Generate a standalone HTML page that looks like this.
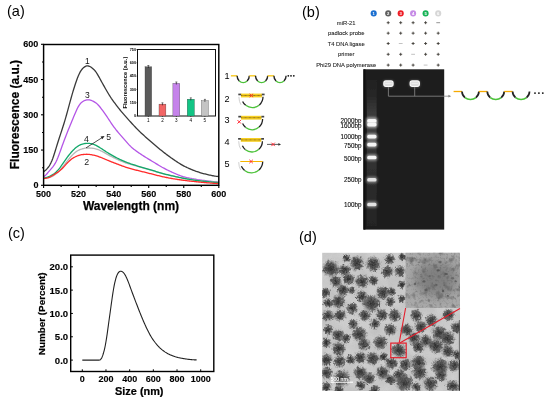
<!DOCTYPE html>
<html><head><meta charset="utf-8"><style>
html,body{margin:0;padding:0;background:#fff;}
svg{display:block;}
</style></head><body>
<svg width="550" height="402" viewBox="0 0 550 402" font-family="'Liberation Sans', Arial, sans-serif">
<defs>
<filter id="bl" x="-30%" y="-80%" width="160%" height="260%"><feGaussianBlur stdDeviation="0.5"/></filter>
<filter id="bl4" x="-50%" y="-100%" width="200%" height="300%"><feGaussianBlur stdDeviation="1.1"/></filter>
<filter id="bl5" x="-10%" y="-10%" width="120%" height="120%"><feGaussianBlur stdDeviation="0.6"/></filter>
<filter id="dend" x="-5%" y="-5%" width="110%" height="110%"><feTurbulence type="turbulence" baseFrequency="0.3" numOctaves="2" seed="8" result="t"/><feDisplacementMap in="SourceGraphic" in2="t" scale="4" xChannelSelector="R" yChannelSelector="G" result="d"/><feGaussianBlur in="d" stdDeviation="0.75"/></filter>
<filter id="mottle" x="0" y="0" width="100%" height="100%" color-interpolation-filters="sRGB"><feTurbulence type="fractalNoise" baseFrequency="0.14" numOctaves="3" seed="21"/><feColorMatrix type="matrix" values="0 0 0 0 0.35  0 0 0 0 0.35  0 0 0 0 0.35  -3 0 0 0 1.45"/><feComposite in2="SourceGraphic" operator="in"/></filter>
<filter id="haze" x="0" y="0" width="100%" height="100%"><feTurbulence type="fractalNoise" baseFrequency="0.07" numOctaves="2" seed="4"/><feColorMatrix type="matrix" values="0 0 0 0 0.45  0 0 0 0 0.45  0 0 0 0 0.45  -2.2 0 0 0 1.35"/><feComposite in2="SourceGraphic" operator="in"/></filter>
<filter id="mottle2" x="0" y="0" width="100%" height="100%" color-interpolation-filters="sRGB"><feTurbulence type="fractalNoise" baseFrequency="0.45" numOctaves="2" seed="13"/><feColorMatrix type="matrix" values="0 0 0 0 0.3  0 0 0 0 0.3  0 0 0 0 0.3  -3 0 0 0 1.4"/><feComposite in2="SourceGraphic" operator="in"/></filter>
<filter id="bl2"><feGaussianBlur stdDeviation="0.8"/></filter>
<filter id="noise" x="0" y="0" width="100%" height="100%"><feTurbulence type="fractalNoise" baseFrequency="0.9" numOctaves="2" seed="3"/><feColorMatrix type="matrix" values="0 0 0 0 0.5  0 0 0 0 0.5  0 0 0 0 0.5  1.2 0 0 0 -0.45"/><feComposite in2="SourceGraphic" operator="in"/></filter>
<radialGradient id="blobg"><stop offset="0" stop-color="#282828"/><stop offset="0.3" stop-color="#383838" stop-opacity="0.95"/><stop offset="0.62" stop-color="#555" stop-opacity="0.75"/><stop offset="1" stop-color="#888" stop-opacity="0"/></radialGradient>
<filter id="bl3" x="-50%" y="-50%" width="200%" height="200%"><feGaussianBlur stdDeviation="6"/></filter>
<linearGradient id="ladsm" x1="0" y1="0" x2="0" y2="1">
<stop offset="0" stop-color="#222"/><stop offset="0.1" stop-color="#262626"/><stop offset="0.22" stop-color="#3a3a3a"/><stop offset="0.3" stop-color="#404040"/><stop offset="0.5" stop-color="#333"/><stop offset="0.8" stop-color="#2a2a2a"/><stop offset="1" stop-color="#242424"/>
</linearGradient>
<clipPath id="insclip"><rect x="405.6" y="252.8" width="54.4" height="55"/></clipPath>
<clipPath id="semclip"><rect x="322.2" y="252.8" width="137.8" height="138.2"/></clipPath>
</defs>
<rect width="550" height="402" fill="#fff"/>
<text x="7" y="16" font-size="14.5" font-weight="normal" text-anchor="start" fill="#000" >(a)</text>
<g fill="none" stroke-width="1.3" stroke-linejoin="round" stroke-linecap="round">
<path d="M43.9,171.37 L44.78,170.85 L45.65,170.17 L46.53,169.35 L47.4,168.35 L48.28,167.26 L49.16,166.01 L50.03,164.55 L50.91,162.86 L51.78,160.91 L52.66,158.68 L53.53,156.2 L54.41,153.51 L55.29,150.71 L56.16,147.87 L57.04,145.04 L57.91,142.24 L58.79,139.5 L59.67,136.8 L60.54,134.14 L61.42,131.48 L62.29,128.79 L63.17,126.05 L64.05,123.25 L64.92,120.35 L65.8,117.36 L66.67,114.28 L67.55,111.11 L68.42,107.88 L69.3,104.62 L70.18,101.38 L71.05,98.21 L71.93,95.13 L72.8,92.16 L73.68,89.28 L74.56,86.5 L75.43,83.82 L76.31,81.25 L77.18,78.81 L78.06,76.53 L78.94,74.48 L79.81,72.69 L80.69,71.14 L81.56,69.82 L82.44,68.74 L83.31,67.85 L84.19,67.15 L85.07,66.59 L85.94,66.19 L86.82,65.95 L87.69,65.89 L88.57,66.01 L89.45,66.28 L90.32,66.71 L91.2,67.26 L92.07,67.92 L92.95,68.66 L93.83,69.48 L94.7,70.42 L95.58,71.5 L96.45,72.74 L97.33,74.1 L98.2,75.56 L99.08,77.11 L99.96,78.73 L100.83,80.37 L101.71,81.98 L102.58,83.56 L103.46,85.11 L104.34,86.67 L105.21,88.22 L106.09,89.76 L106.96,91.28 L107.84,92.77 L108.72,94.22 L109.59,95.62 L110.47,96.98 L111.34,98.3 L112.22,99.57 L113.09,100.82 L113.97,102.04 L114.85,103.24 L115.72,104.42 L116.6,105.58 L117.47,106.71 L118.35,107.83 L119.23,108.92 L120.1,110 L120.98,111.05 L121.85,112.1 L122.73,113.13 L123.61,114.15 L124.48,115.16 L125.36,116.17 L126.23,117.17 L127.11,118.17 L127.98,119.15 L128.86,120.13 L129.74,121.1 L130.61,122.06 L131.49,123.02 L132.36,123.97 L133.24,124.91 L134.12,125.85 L134.99,126.78 L135.87,127.7 L136.74,128.61 L137.62,129.51 L138.49,130.39 L139.37,131.26 L140.25,132.11 L141.12,132.94 L142,133.76 L142.87,134.56 L143.75,135.35 L144.63,136.13 L145.5,136.9 L146.38,137.67 L147.25,138.43 L148.13,139.19 L149.01,139.95 L149.88,140.71 L150.76,141.47 L151.63,142.23 L152.51,143 L153.38,143.76 L154.26,144.51 L155.14,145.27 L156.01,146.02 L156.89,146.76 L157.76,147.49 L158.64,148.22 L159.52,148.94 L160.39,149.66 L161.27,150.36 L162.14,151.06 L163.02,151.75 L163.9,152.44 L164.77,153.12 L165.65,153.79 L166.52,154.46 L167.4,155.12 L168.27,155.76 L169.15,156.4 L170.03,157.04 L170.9,157.66 L171.78,158.27 L172.65,158.89 L173.53,159.49 L174.41,160.09 L175.28,160.69 L176.16,161.28 L177.03,161.87 L177.91,162.45 L178.79,163.02 L179.66,163.57 L180.54,164.11 L181.41,164.63 L182.29,165.13 L183.16,165.61 L184.04,166.08 L184.92,166.53 L185.79,166.96 L186.67,167.37 L187.54,167.78 L188.42,168.17 L189.3,168.56 L190.17,168.94 L191.05,169.31 L191.92,169.67 L192.8,170.03 L193.68,170.37 L194.55,170.71 L195.43,171.03 L196.3,171.35 L197.18,171.65 L198.05,171.95 L198.93,172.24 L199.81,172.51 L200.68,172.78 L201.56,173.04 L202.43,173.28 L203.31,173.52 L204.19,173.76 L205.06,173.98 L205.94,174.2 L206.81,174.42 L207.69,174.63 L208.57,174.83 L209.44,175.03 L210.32,175.22 L211.19,175.4 L212.07,175.58 L212.94,175.75 L213.82,175.91 L214.7,176.06 L215.57,176.2 L216.45,176.32 L217.32,176.42 L218.2,176.49" stroke="#3a3a3a"/>
<path d="M43.9,176.5 L44.78,175.91 L45.65,175.16 L46.53,174.27 L47.4,173.22 L48.28,172.18 L49.16,171.15 L50.03,170.13 L50.91,169.13 L51.78,168.11 L52.66,167.05 L53.53,165.91 L54.41,164.63 L55.29,163.17 L56.16,161.5 L57.04,159.62 L57.91,157.52 L58.79,155.25 L59.67,152.87 L60.54,150.42 L61.42,147.98 L62.29,145.55 L63.17,143.16 L64.05,140.82 L64.92,138.52 L65.8,136.26 L66.67,134.02 L67.55,131.8 L68.42,129.6 L69.3,127.43 L70.18,125.3 L71.05,123.19 L71.93,121.08 L72.8,118.98 L73.68,116.87 L74.56,114.77 L75.43,112.7 L76.31,110.69 L77.18,108.79 L78.06,107.07 L78.94,105.57 L79.81,104.31 L80.69,103.26 L81.56,102.41 L82.44,101.73 L83.31,101.19 L84.19,100.75 L85.07,100.39 L85.94,100.11 L86.82,99.92 L87.69,99.83 L88.57,99.83 L89.45,99.94 L90.32,100.13 L91.2,100.4 L92.07,100.75 L92.95,101.14 L93.83,101.59 L94.7,102.1 L95.58,102.69 L96.45,103.35 L97.33,104.12 L98.2,104.98 L99.08,105.94 L99.96,106.99 L100.83,108.12 L101.71,109.28 L102.58,110.47 L103.46,111.68 L104.34,112.9 L105.21,114.15 L106.09,115.41 L106.96,116.69 L107.84,118 L108.72,119.33 L109.59,120.66 L110.47,121.99 L111.34,123.3 L112.22,124.59 L113.09,125.84 L113.97,127.06 L114.85,128.23 L115.72,129.37 L116.6,130.47 L117.47,131.53 L118.35,132.57 L119.23,133.59 L120.1,134.6 L120.98,135.6 L121.85,136.6 L122.73,137.6 L123.61,138.61 L124.48,139.62 L125.36,140.64 L126.23,141.65 L127.11,142.66 L127.98,143.64 L128.86,144.59 L129.74,145.49 L130.61,146.36 L131.49,147.18 L132.36,147.96 L133.24,148.7 L134.12,149.41 L134.99,150.09 L135.87,150.75 L136.74,151.39 L137.62,152.01 L138.49,152.62 L139.37,153.22 L140.25,153.8 L141.12,154.38 L142,154.96 L142.87,155.53 L143.75,156.1 L144.63,156.66 L145.5,157.22 L146.38,157.77 L147.25,158.31 L148.13,158.85 L149.01,159.38 L149.88,159.9 L150.76,160.42 L151.63,160.95 L152.51,161.47 L153.38,162 L154.26,162.53 L155.14,163.06 L156.01,163.6 L156.89,164.13 L157.76,164.67 L158.64,165.19 L159.52,165.71 L160.39,166.23 L161.27,166.73 L162.14,167.23 L163.02,167.71 L163.9,168.19 L164.77,168.65 L165.65,169.11 L166.52,169.56 L167.4,170 L168.27,170.44 L169.15,170.86 L170.03,171.27 L170.9,171.68 L171.78,172.08 L172.65,172.47 L173.53,172.86 L174.41,173.24 L175.28,173.62 L176.16,174 L177.03,174.37 L177.91,174.73 L178.79,175.08 L179.66,175.42 L180.54,175.75 L181.41,176.06 L182.29,176.36 L183.16,176.64 L184.04,176.9 L184.92,177.14 L185.79,177.37 L186.67,177.59 L187.54,177.79 L188.42,177.98 L189.3,178.16 L190.17,178.34 L191.05,178.5 L191.92,178.67 L192.8,178.82 L193.68,178.97 L194.55,179.12 L195.43,179.26 L196.3,179.4 L197.18,179.53 L198.05,179.67 L198.93,179.79 L199.81,179.92 L200.68,180.04 L201.56,180.15 L202.43,180.27 L203.31,180.38 L204.19,180.49 L205.06,180.61 L205.94,180.72 L206.81,180.82 L207.69,180.93 L208.57,181.04 L209.44,181.14 L210.32,181.24 L211.19,181.35 L212.07,181.45 L212.94,181.54 L213.82,181.64 L214.7,181.74 L215.57,181.83 L216.45,181.91 L217.32,181.97 L218.2,182.02" stroke="#b455e6"/>
<path d="M43.9,178.35 L44.78,178.29 L45.65,178.21 L46.53,178.1 L47.4,177.95 L48.28,177.77 L49.16,177.55 L50.03,177.27 L50.91,176.94 L51.78,176.56 L52.66,176.12 L53.53,175.62 L54.41,175.05 L55.29,174.43 L56.16,173.75 L57.04,173.02 L57.91,172.23 L58.79,171.39 L59.67,170.48 L60.54,169.51 L61.42,168.49 L62.29,167.42 L63.17,166.32 L64.05,165.19 L64.92,164.05 L65.8,162.91 L66.67,161.78 L67.55,160.67 L68.42,159.59 L69.3,158.53 L70.18,157.5 L71.05,156.5 L71.93,155.54 L72.8,154.63 L73.68,153.78 L74.56,152.99 L75.43,152.26 L76.31,151.6 L77.18,151.01 L78.06,150.5 L78.94,150.05 L79.81,149.65 L80.69,149.31 L81.56,149.01 L82.44,148.75 L83.31,148.53 L84.19,148.35 L85.07,148.21 L85.94,148.09 L86.82,148.02 L87.69,147.98 L88.57,147.97 L89.45,148 L90.32,148.05 L91.2,148.12 L92.07,148.22 L92.95,148.33 L93.83,148.47 L94.7,148.65 L95.58,148.85 L96.45,149.09 L97.33,149.36 L98.2,149.67 L99.08,150.01 L99.96,150.38 L100.83,150.79 L101.71,151.22 L102.58,151.68 L103.46,152.16 L104.34,152.66 L105.21,153.17 L106.09,153.68 L106.96,154.17 L107.84,154.66 L108.72,155.14 L109.59,155.61 L110.47,156.07 L111.34,156.53 L112.22,156.98 L113.09,157.42 L113.97,157.86 L114.85,158.29 L115.72,158.71 L116.6,159.12 L117.47,159.52 L118.35,159.92 L119.23,160.3 L120.1,160.68 L120.98,161.05 L121.85,161.42 L122.73,161.77 L123.61,162.11 L124.48,162.45 L125.36,162.77 L126.23,163.08 L127.11,163.38 L127.98,163.66 L128.86,163.94 L129.74,164.2 L130.61,164.46 L131.49,164.71 L132.36,164.96 L133.24,165.21 L134.12,165.45 L134.99,165.7 L135.87,165.95 L136.74,166.2 L137.62,166.45 L138.49,166.69 L139.37,166.94 L140.25,167.19 L141.12,167.43 L142,167.68 L142.87,167.93 L143.75,168.17 L144.63,168.42 L145.5,168.67 L146.38,168.92 L147.25,169.16 L148.13,169.41 L149.01,169.66 L149.88,169.91 L150.76,170.15 L151.63,170.4 L152.51,170.65 L153.38,170.9 L154.26,171.15 L155.14,171.4 L156.01,171.65 L156.89,171.9 L157.76,172.16 L158.64,172.41 L159.52,172.65 L160.39,172.9 L161.27,173.14 L162.14,173.37 L163.02,173.6 L163.9,173.83 L164.77,174.05 L165.65,174.26 L166.52,174.48 L167.4,174.69 L168.27,174.9 L169.15,175.1 L170.03,175.3 L170.9,175.5 L171.78,175.69 L172.65,175.88 L173.53,176.06 L174.41,176.25 L175.28,176.43 L176.16,176.61 L177.03,176.78 L177.91,176.96 L178.79,177.13 L179.66,177.3 L180.54,177.47 L181.41,177.63 L182.29,177.8 L183.16,177.96 L184.04,178.12 L184.92,178.28 L185.79,178.44 L186.67,178.6 L187.54,178.76 L188.42,178.92 L189.3,179.07 L190.17,179.22 L191.05,179.37 L191.92,179.52 L192.8,179.66 L193.68,179.79 L194.55,179.93 L195.43,180.05 L196.3,180.17 L197.18,180.29 L198.05,180.41 L198.93,180.52 L199.81,180.63 L200.68,180.73 L201.56,180.83 L202.43,180.93 L203.31,181.02 L204.19,181.11 L205.06,181.2 L205.94,181.28 L206.81,181.36 L207.69,181.44 L208.57,181.52 L209.44,181.59 L210.32,181.66 L211.19,181.73 L212.07,181.8 L212.94,181.87 L213.82,181.93 L214.7,181.99 L215.57,182.04 L216.45,182.09 L217.32,182.13 L218.2,182.16" stroke="#b8b8b8"/>
<path d="M43.9,178.1 L44.78,177.95 L45.65,177.75 L46.53,177.49 L47.4,177.18 L48.28,176.83 L49.16,176.46 L50.03,176.06 L50.91,175.63 L51.78,175.16 L52.66,174.65 L53.53,174.09 L54.41,173.45 L55.29,172.74 L56.16,171.95 L57.04,171.08 L57.91,170.14 L58.79,169.12 L59.67,168.04 L60.54,166.88 L61.42,165.68 L62.29,164.44 L63.17,163.17 L64.05,161.89 L64.92,160.61 L65.8,159.34 L66.67,158.1 L67.55,156.9 L68.42,155.75 L69.3,154.63 L70.18,153.55 L71.05,152.51 L71.93,151.51 L72.8,150.57 L73.68,149.69 L74.56,148.85 L75.43,148.07 L76.31,147.34 L77.18,146.68 L78.06,146.08 L78.94,145.55 L79.81,145.08 L80.69,144.68 L81.56,144.34 L82.44,144.06 L83.31,143.83 L84.19,143.65 L85.07,143.5 L85.94,143.39 L86.82,143.33 L87.69,143.31 L88.57,143.34 L89.45,143.42 L90.32,143.54 L91.2,143.7 L92.07,143.9 L92.95,144.14 L93.83,144.43 L94.7,144.77 L95.58,145.17 L96.45,145.6 L97.33,146.08 L98.2,146.59 L99.08,147.13 L99.96,147.68 L100.83,148.24 L101.71,148.8 L102.58,149.38 L103.46,149.96 L104.34,150.54 L105.21,151.13 L106.09,151.7 L106.96,152.27 L107.84,152.82 L108.72,153.36 L109.59,153.89 L110.47,154.41 L111.34,154.92 L112.22,155.42 L113.09,155.91 L113.97,156.39 L114.85,156.86 L115.72,157.32 L116.6,157.78 L117.47,158.22 L118.35,158.65 L119.23,159.08 L120.1,159.49 L120.98,159.9 L121.85,160.3 L122.73,160.69 L123.61,161.07 L124.48,161.44 L125.36,161.81 L126.23,162.16 L127.11,162.5 L127.98,162.82 L128.86,163.14 L129.74,163.45 L130.61,163.76 L131.49,164.05 L132.36,164.34 L133.24,164.63 L134.12,164.91 L134.99,165.19 L135.87,165.47 L136.74,165.75 L137.62,166.02 L138.49,166.29 L139.37,166.55 L140.25,166.82 L141.12,167.08 L142,167.34 L142.87,167.6 L143.75,167.87 L144.63,168.12 L145.5,168.38 L146.38,168.64 L147.25,168.9 L148.13,169.15 L149.01,169.41 L149.88,169.67 L150.76,169.92 L151.63,170.18 L152.51,170.44 L153.38,170.7 L154.26,170.97 L155.14,171.24 L156.01,171.51 L156.89,171.78 L157.76,172.05 L158.64,172.32 L159.52,172.59 L160.39,172.85 L161.27,173.11 L162.14,173.36 L163.02,173.6 L163.9,173.84 L164.77,174.07 L165.65,174.3 L166.52,174.52 L167.4,174.74 L168.27,174.96 L169.15,175.17 L170.03,175.38 L170.9,175.59 L171.78,175.79 L172.65,175.99 L173.53,176.19 L174.41,176.39 L175.28,176.59 L176.16,176.78 L177.03,176.97 L177.91,177.16 L178.79,177.35 L179.66,177.53 L180.54,177.71 L181.41,177.89 L182.29,178.07 L183.16,178.24 L184.04,178.41 L184.92,178.58 L185.79,178.75 L186.67,178.91 L187.54,179.07 L188.42,179.23 L189.3,179.39 L190.17,179.54 L191.05,179.69 L191.92,179.83 L192.8,179.97 L193.68,180.1 L194.55,180.23 L195.43,180.34 L196.3,180.46 L197.18,180.57 L198.05,180.67 L198.93,180.77 L199.81,180.87 L200.68,180.96 L201.56,181.05 L202.43,181.14 L203.31,181.23 L204.19,181.32 L205.06,181.41 L205.94,181.49 L206.81,181.58 L207.69,181.66 L208.57,181.75 L209.44,181.83 L210.32,181.91 L211.19,181.99 L212.07,182.07 L212.94,182.15 L213.82,182.23 L214.7,182.31 L215.57,182.38 L216.45,182.44 L217.32,182.5 L218.2,182.54" stroke="#12a86a"/>
<path d="M43.9,178.51 L44.78,178.42 L45.65,178.3 L46.53,178.12 L47.4,177.91 L48.28,177.64 L49.16,177.32 L50.03,176.93 L50.91,176.49 L51.78,176 L52.66,175.48 L53.53,174.93 L54.41,174.36 L55.29,173.79 L56.16,173.23 L57.04,172.67 L57.91,172.09 L58.79,171.49 L59.67,170.82 L60.54,170.1 L61.42,169.31 L62.29,168.45 L63.17,167.55 L64.05,166.61 L64.92,165.64 L65.8,164.66 L66.67,163.69 L67.55,162.75 L68.42,161.85 L69.3,161 L70.18,160.2 L71.05,159.46 L71.93,158.8 L72.8,158.21 L73.68,157.68 L74.56,157.21 L75.43,156.77 L76.31,156.36 L77.18,155.99 L78.06,155.66 L78.94,155.37 L79.81,155.12 L80.69,154.91 L81.56,154.73 L82.44,154.59 L83.31,154.48 L84.19,154.4 L85.07,154.33 L85.94,154.29 L86.82,154.27 L87.69,154.28 L88.57,154.33 L89.45,154.42 L90.32,154.53 L91.2,154.67 L92.07,154.84 L92.95,155.03 L93.83,155.23 L94.7,155.45 L95.58,155.68 L96.45,155.93 L97.33,156.2 L98.2,156.48 L99.08,156.78 L99.96,157.09 L100.83,157.42 L101.71,157.76 L102.58,158.12 L103.46,158.49 L104.34,158.86 L105.21,159.24 L106.09,159.61 L106.96,159.98 L107.84,160.35 L108.72,160.72 L109.59,161.07 L110.47,161.43 L111.34,161.77 L112.22,162.12 L113.09,162.47 L113.97,162.81 L114.85,163.15 L115.72,163.48 L116.6,163.82 L117.47,164.15 L118.35,164.48 L119.23,164.81 L120.1,165.14 L120.98,165.46 L121.85,165.78 L122.73,166.1 L123.61,166.41 L124.48,166.72 L125.36,167.01 L126.23,167.3 L127.11,167.58 L127.98,167.85 L128.86,168.11 L129.74,168.36 L130.61,168.61 L131.49,168.85 L132.36,169.09 L133.24,169.33 L134.12,169.56 L134.99,169.79 L135.87,170.02 L136.74,170.25 L137.62,170.47 L138.49,170.69 L139.37,170.91 L140.25,171.12 L141.12,171.34 L142,171.56 L142.87,171.77 L143.75,171.99 L144.63,172.21 L145.5,172.43 L146.38,172.64 L147.25,172.86 L148.13,173.08 L149.01,173.3 L149.88,173.52 L150.76,173.74 L151.63,173.96 L152.51,174.18 L153.38,174.4 L154.26,174.62 L155.14,174.85 L156.01,175.07 L156.89,175.3 L157.76,175.52 L158.64,175.74 L159.52,175.96 L160.39,176.17 L161.27,176.38 L162.14,176.58 L163.02,176.78 L163.9,176.97 L164.77,177.16 L165.65,177.34 L166.52,177.51 L167.4,177.69 L168.27,177.85 L169.15,178.02 L170.03,178.18 L170.9,178.34 L171.78,178.49 L172.65,178.64 L173.53,178.79 L174.41,178.94 L175.28,179.08 L176.16,179.22 L177.03,179.36 L177.91,179.49 L178.79,179.63 L179.66,179.76 L180.54,179.89 L181.41,180.01 L182.29,180.13 L183.16,180.25 L184.04,180.37 L184.92,180.48 L185.79,180.59 L186.67,180.7 L187.54,180.8 L188.42,180.9 L189.3,181 L190.17,181.09 L191.05,181.19 L191.92,181.28 L192.8,181.37 L193.68,181.46 L194.55,181.55 L195.43,181.65 L196.3,181.74 L197.18,181.83 L198.05,181.92 L198.93,182.01 L199.81,182.1 L200.68,182.19 L201.56,182.28 L202.43,182.36 L203.31,182.44 L204.19,182.52 L205.06,182.6 L205.94,182.68 L206.81,182.75 L207.69,182.83 L208.57,182.9 L209.44,182.97 L210.32,183.04 L211.19,183.11 L212.07,183.17 L212.94,183.24 L213.82,183.3 L214.7,183.36 L215.57,183.43 L216.45,183.48 L217.32,183.52 L218.2,183.55" stroke="#ff2a2a"/>
</g>
<g font-family="'Liberation Sans', Arial, sans-serif" font-size="8" fill="#222">
<text x="87.3" y="63.6" font-size="8.5" font-weight="normal" text-anchor="middle" fill="#111" >1</text>
<text x="87.3" y="97.7" font-size="8.5" font-weight="normal" text-anchor="middle" fill="#111" >3</text>
<text x="86.4" y="141.8" font-size="8.8" font-weight="normal" text-anchor="middle" fill="#222" >4</text>
<text x="86.6" y="165.4" font-size="8.8" font-weight="normal" text-anchor="middle" fill="#222" >2</text>
<text x="108.7" y="139.7" font-size="8.6" font-weight="normal" text-anchor="middle" fill="#222" >5</text>
</g>
<line x1="86" y1="147.9" x2="102.6" y2="137.3" stroke="#222" stroke-width="0.8" />
<path d="M104.6,136 L100.6,136.6 L102.3,139.2 Z" fill="#222"/>
<rect x="137.5" y="49.5" width="78.0" height="66.5" fill="none" stroke="#111" stroke-width="1.0"/>
<rect x="145" y="66.79" width="6.7" height="49.21" fill="#5a5a5a" stroke="#333" stroke-width="0.3"/>
<line x1="148.35" y1="65.49" x2="148.35" y2="68.09" stroke="#000" stroke-width="0.5" />
<line x1="147.35" y1="65.49" x2="149.35" y2="65.49" stroke="#000" stroke-width="0.5" />
<text x="148.35" y="122.2" font-size="4.6" font-weight="normal" text-anchor="middle" fill="#000" >1</text>
<line x1="148.35" y1="116" x2="148.35" y2="117" stroke="#000" stroke-width="0.5" />
<rect x="159" y="104.12" width="6.9" height="11.88" fill="#f26565" stroke="#333" stroke-width="0.3"/>
<line x1="162.45" y1="102.82" x2="162.45" y2="105.42" stroke="#000" stroke-width="0.5" />
<line x1="161.45" y1="102.82" x2="163.45" y2="102.82" stroke="#000" stroke-width="0.5" />
<text x="162.45" y="122.2" font-size="4.6" font-weight="normal" text-anchor="middle" fill="#000" >2</text>
<line x1="162.45" y1="116" x2="162.45" y2="117" stroke="#000" stroke-width="0.5" />
<rect x="172.9" y="83.28" width="6.9" height="32.72" fill="#c583ea" stroke="#333" stroke-width="0.3"/>
<line x1="176.35" y1="81.98" x2="176.35" y2="84.58" stroke="#000" stroke-width="0.5" />
<line x1="175.35" y1="81.98" x2="177.35" y2="81.98" stroke="#000" stroke-width="0.5" />
<text x="176.35" y="122.2" font-size="4.6" font-weight="normal" text-anchor="middle" fill="#000" >3</text>
<line x1="176.35" y1="116" x2="176.35" y2="117" stroke="#000" stroke-width="0.5" />
<rect x="187.2" y="99.15" width="7.2" height="16.85" fill="#12c585" stroke="#333" stroke-width="0.3"/>
<line x1="190.8" y1="97.85" x2="190.8" y2="100.45" stroke="#000" stroke-width="0.5" />
<line x1="189.8" y1="97.85" x2="191.8" y2="97.85" stroke="#000" stroke-width="0.5" />
<text x="190.8" y="122.2" font-size="4.6" font-weight="normal" text-anchor="middle" fill="#000" >4</text>
<line x1="190.8" y1="116" x2="190.8" y2="117" stroke="#000" stroke-width="0.5" />
<rect x="201.4" y="100.66" width="7" height="15.34" fill="#c4c4c4" stroke="#333" stroke-width="0.3"/>
<line x1="204.9" y1="99.36" x2="204.9" y2="101.96" stroke="#000" stroke-width="0.5" />
<line x1="203.9" y1="99.36" x2="205.9" y2="99.36" stroke="#000" stroke-width="0.5" />
<text x="204.9" y="122.2" font-size="4.6" font-weight="normal" text-anchor="middle" fill="#000" >5</text>
<line x1="204.9" y1="116" x2="204.9" y2="117" stroke="#000" stroke-width="0.5" />
<line x1="136.3" y1="116" x2="137.5" y2="116" stroke="#000" stroke-width="0.5" />
<text x="136" y="117.35" font-size="3.8" font-weight="bold" text-anchor="end" fill="#000" >0</text>
<line x1="136.3" y1="102.7" x2="137.5" y2="102.7" stroke="#000" stroke-width="0.5" />
<text x="136" y="104.05" font-size="3.8" font-weight="bold" text-anchor="end" fill="#000" >150</text>
<line x1="136.3" y1="89.4" x2="137.5" y2="89.4" stroke="#000" stroke-width="0.5" />
<text x="136" y="90.75" font-size="3.8" font-weight="bold" text-anchor="end" fill="#000" >300</text>
<line x1="136.3" y1="76.1" x2="137.5" y2="76.1" stroke="#000" stroke-width="0.5" />
<text x="136" y="77.45" font-size="3.8" font-weight="bold" text-anchor="end" fill="#000" >450</text>
<line x1="136.3" y1="62.8" x2="137.5" y2="62.8" stroke="#000" stroke-width="0.5" />
<text x="136" y="64.15" font-size="3.8" font-weight="bold" text-anchor="end" fill="#000" >600</text>
<line x1="136.3" y1="49.5" x2="137.5" y2="49.5" stroke="#000" stroke-width="0.5" />
<text x="136" y="50.85" font-size="3.8" font-weight="bold" text-anchor="end" fill="#000" >750</text>
<text transform="translate(126.5,82.6) rotate(-90)" font-size="5.7" font-weight="bold" text-anchor="middle">Fluorescence (a.u.)</text>
<rect x="43.6" y="44.5" width="175.2" height="140.8" fill="none" stroke="#000" stroke-width="1.45"/>
<line x1="41" y1="185.3" x2="43.6" y2="185.3" stroke="#000" stroke-width="1.1" />
<text x="38.4" y="188.27" font-size="9" font-weight="bold" text-anchor="end" fill="#000" stroke="#000" stroke-width="0.12">0</text>
<line x1="42" y1="167.68" x2="43.6" y2="167.68" stroke="#000" stroke-width="1.1" />
<line x1="41" y1="150.05" x2="43.6" y2="150.05" stroke="#000" stroke-width="1.1" />
<text x="38.4" y="153.02" font-size="9" font-weight="bold" text-anchor="end" fill="#000" stroke="#000" stroke-width="0.12">150</text>
<line x1="42" y1="132.43" x2="43.6" y2="132.43" stroke="#000" stroke-width="1.1" />
<line x1="41" y1="114.8" x2="43.6" y2="114.8" stroke="#000" stroke-width="1.1" />
<text x="38.4" y="117.77" font-size="9" font-weight="bold" text-anchor="end" fill="#000" stroke="#000" stroke-width="0.12">300</text>
<line x1="42" y1="97.18" x2="43.6" y2="97.18" stroke="#000" stroke-width="1.1" />
<line x1="41" y1="79.55" x2="43.6" y2="79.55" stroke="#000" stroke-width="1.1" />
<text x="38.4" y="82.52" font-size="9" font-weight="bold" text-anchor="end" fill="#000" stroke="#000" stroke-width="0.12">450</text>
<line x1="42" y1="61.93" x2="43.6" y2="61.93" stroke="#000" stroke-width="1.1" />
<line x1="41" y1="44.3" x2="43.6" y2="44.3" stroke="#000" stroke-width="1.1" />
<text x="38.4" y="47.27" font-size="9" font-weight="bold" text-anchor="end" fill="#000" stroke="#000" stroke-width="0.12">600</text>
<line x1="43.6" y1="185.3" x2="43.6" y2="187.9" stroke="#000" stroke-width="1.1" />
<text x="43.6" y="197.4" font-size="9" font-weight="bold" text-anchor="middle" fill="#000" stroke="#000" stroke-width="0.12">500</text>
<line x1="61.12" y1="185.3" x2="61.12" y2="186.9" stroke="#000" stroke-width="1.1" />
<line x1="78.64" y1="185.3" x2="78.64" y2="187.9" stroke="#000" stroke-width="1.1" />
<text x="78.64" y="197.4" font-size="9" font-weight="bold" text-anchor="middle" fill="#000" stroke="#000" stroke-width="0.12">520</text>
<line x1="96.16" y1="185.3" x2="96.16" y2="186.9" stroke="#000" stroke-width="1.1" />
<line x1="113.68" y1="185.3" x2="113.68" y2="187.9" stroke="#000" stroke-width="1.1" />
<text x="113.68" y="197.4" font-size="9" font-weight="bold" text-anchor="middle" fill="#000" stroke="#000" stroke-width="0.12">540</text>
<line x1="131.2" y1="185.3" x2="131.2" y2="186.9" stroke="#000" stroke-width="1.1" />
<line x1="148.72" y1="185.3" x2="148.72" y2="187.9" stroke="#000" stroke-width="1.1" />
<text x="148.72" y="197.4" font-size="9" font-weight="bold" text-anchor="middle" fill="#000" stroke="#000" stroke-width="0.12">560</text>
<line x1="166.24" y1="185.3" x2="166.24" y2="186.9" stroke="#000" stroke-width="1.1" />
<line x1="183.76" y1="185.3" x2="183.76" y2="187.9" stroke="#000" stroke-width="1.1" />
<text x="183.76" y="197.4" font-size="9" font-weight="bold" text-anchor="middle" fill="#000" stroke="#000" stroke-width="0.12">580</text>
<line x1="201.28" y1="185.3" x2="201.28" y2="186.9" stroke="#000" stroke-width="1.1" />
<line x1="218.8" y1="185.3" x2="218.8" y2="187.9" stroke="#000" stroke-width="1.1" />
<text x="218.8" y="197.4" font-size="9" font-weight="bold" text-anchor="middle" fill="#000" stroke="#000" stroke-width="0.12">600</text>
<text x="131" y="209.7" font-size="12" font-weight="bold" text-anchor="middle" fill="#000" stroke="#000" stroke-width="0.25">Wavelength (nm)</text>
<text transform="translate(18.8,114.6) rotate(-90)" font-size="12" font-weight="bold" text-anchor="middle" stroke="#000" stroke-width="0.25">Fluorescence (a.u.)</text>
<g font-size="8.6" fill="#111">
<text x="224.4" y="79.2" font-size="9.1" font-weight="normal" text-anchor="start" fill="#000" >1</text>
<text x="224.4" y="101.7" font-size="9.1" font-weight="normal" text-anchor="start" fill="#000" >2</text>
<text x="224.4" y="123.4" font-size="9.1" font-weight="normal" text-anchor="start" fill="#000" >3</text>
<text x="224.4" y="145" font-size="9.1" font-weight="normal" text-anchor="start" fill="#000" >4</text>
<text x="224.4" y="167.3" font-size="9.1" font-weight="normal" text-anchor="start" fill="#000" >5</text>
</g>
<line x1="230.9" y1="75.8" x2="237.1" y2="75.8" stroke="#f9cd2e" stroke-width="1.5" />
<path d="M237.1,75.8 A6.1,6.8 0 0 0 239.24,80.97" stroke="#222" stroke-width="1.4" fill="none"/>
<path d="M239.24,80.97 A6.1,6.8 0 0 0 247.16,80.97" stroke="#4cc23a" stroke-width="1.4" fill="none"/>
<path d="M247.16,80.97 A6.1,6.8 0 0 0 249.3,75.8" stroke="#222" stroke-width="1.4" fill="none"/>
<line x1="249.3" y1="75.8" x2="255.5" y2="75.8" stroke="#f9cd2e" stroke-width="1.5" />
<path d="M255.5,75.8 A6.1,6.8 0 0 0 257.64,80.97" stroke="#222" stroke-width="1.4" fill="none"/>
<path d="M257.64,80.97 A6.1,6.8 0 0 0 265.56,80.97" stroke="#4cc23a" stroke-width="1.4" fill="none"/>
<path d="M265.56,80.97 A6.1,6.8 0 0 0 267.7,75.8" stroke="#222" stroke-width="1.4" fill="none"/>
<line x1="267.7" y1="75.8" x2="273.9" y2="75.8" stroke="#f9cd2e" stroke-width="1.5" />
<path d="M273.9,75.8 A6.1,6.8 0 0 0 276.04,80.97" stroke="#222" stroke-width="1.4" fill="none"/>
<path d="M276.04,80.97 A6.1,6.8 0 0 0 283.96,80.97" stroke="#4cc23a" stroke-width="1.4" fill="none"/>
<path d="M283.96,80.97 A6.1,6.8 0 0 0 286.1,75.8" stroke="#222" stroke-width="1.4" fill="none"/>
<circle cx="288.3" cy="75.8" r="0.9" fill="#111"/>
<circle cx="291" cy="75.8" r="0.9" fill="#111"/>
<circle cx="293.8" cy="75.8" r="0.9" fill="#111"/>
<path d="M242.62,101.4 A10.7,10.8 0 0 0 245.74,105.33" stroke="#222" stroke-width="1.3" fill="none"/>
<path d="M245.74,105.33 A10.7,10.8 0 0 0 259.38,104.9" stroke="#4cc23a" stroke-width="1.3" fill="none"/>
<path d="M259.38,104.9 A10.7,10.8 0 0 0 263,96.8" stroke="#222" stroke-width="1.3" fill="none"/>
<path d="M238.9,96.8 Q239.1,102.3 241,104.8" stroke="#d2d2d2" stroke-width="1" fill="none"/>
<rect x="241" y="93.6" width="20.9" height="3.8" fill="#f7cf22"/>
<line x1="241.2" y1="95.5" x2="261.7" y2="95.5" stroke="#7a5a12" stroke-width="0.9" stroke-dasharray="0.8,0.5"/>
<rect x="238.3" y="93.6" width="2.8" height="1.7" fill="#444"/>
<rect x="261.8" y="93.6" width="2.8" height="1.7" fill="#444"/>
<path d="M249.7,93.8 L253.1,97.2 M253.1,93.8 L249.7,97.2" stroke="#ff2a35" stroke-width="1.0" fill="none"/>
<path d="M242.6,123.6 A10.5,10.8 0 0 0 245.66,127.53" stroke="#222" stroke-width="1.3" fill="none"/>
<path d="M245.66,127.53 A10.5,10.8 0 0 0 259.04,127.1" stroke="#4cc23a" stroke-width="1.3" fill="none"/>
<path d="M259.04,127.1 A10.5,10.8 0 0 0 262.6,119" stroke="#222" stroke-width="1.3" fill="none"/>
<rect x="241" y="115.8" width="20.5" height="3.8" fill="#f7cf22"/>
<line x1="241.2" y1="117.7" x2="261.3" y2="117.7" stroke="#7a5a12" stroke-width="0.9" stroke-dasharray="0.8,0.5"/>
<rect x="238.3" y="115.8" width="2.8" height="1.7" fill="#444"/>
<rect x="261.4" y="115.8" width="2.8" height="1.7" fill="#444"/>
<path d="M237.5,120.1 L240.9,123.5 M240.9,120.1 L237.5,123.5" stroke="#ff2a35" stroke-width="1.0" fill="none"/>
<path d="M242.4,145.8 A10.5,10.8 0 0 0 245.46,149.73" stroke="#222" stroke-width="1.3" fill="none"/>
<path d="M245.46,149.73 A10.5,10.8 0 0 0 258.84,149.3" stroke="#4cc23a" stroke-width="1.3" fill="none"/>
<path d="M258.84,149.3 A10.5,10.8 0 0 0 262.4,141.2" stroke="#222" stroke-width="1.3" fill="none"/>
<path d="M238.7,141.2 Q238.9,146.7 240.8,149.2" stroke="#d2d2d2" stroke-width="1" fill="none"/>
<rect x="240.8" y="138" width="20.5" height="3.8" fill="#f7cf22"/>
<line x1="241" y1="139.9" x2="261.1" y2="139.9" stroke="#7a5a12" stroke-width="0.9" stroke-dasharray="0.8,0.5"/>
<rect x="238.1" y="138" width="2.8" height="1.7" fill="#444"/>
<rect x="261.2" y="138" width="2.8" height="1.7" fill="#444"/>
<line x1="267" y1="144.4" x2="279.2" y2="144.4" stroke="#333" stroke-width="0.8" />
<path d="M281,144.4 L278.4,143.1 L278.4,145.7 Z" fill="#333"/>
<path d="M271.4,142.7 L274.8,146.1 M274.8,142.7 L271.4,146.1" stroke="#ff2a35" stroke-width="1.0" fill="none"/>
<path d="M241.37,166.31 A11.2,11.3 0 0 0 244.64,170.43" stroke="#222" stroke-width="1.3" fill="none"/>
<path d="M244.64,170.43 A11.2,11.3 0 0 0 258.91,169.98" stroke="#4cc23a" stroke-width="1.3" fill="none"/>
<path d="M258.91,169.98 A11.2,11.3 0 0 0 262.7,161.5" stroke="#222" stroke-width="1.3" fill="none"/>
<path d="M238.7,162.1 Q238.9,167 240.6,169.9" stroke="#d2d2d2" stroke-width="1" fill="none"/>
<line x1="240.3" y1="161.5" x2="262.7" y2="161.5" stroke="#f7b500" stroke-width="1.0" />
<path d="M249.4,159.8 L252.8,163.2 M252.8,159.8 L249.4,163.2" stroke="#ff2a35" stroke-width="1.0" fill="none"/>
<text x="302" y="17" font-size="14.5" font-weight="normal" text-anchor="start" fill="#000" >(b)</text>
<circle cx="373.7" cy="13.4" r="3.05" fill="#1a6fd0"/>
<text x="373.7" y="15" font-size="4.2" font-weight="bold" text-anchor="middle" fill="#fff" >1</text>
<circle cx="388.2" cy="13.4" r="3.05" fill="#5f5f5f"/>
<text x="388.2" y="15" font-size="4.2" font-weight="bold" text-anchor="middle" fill="#fff" >2</text>
<circle cx="400.7" cy="13.4" r="3.05" fill="#ee1c25"/>
<text x="400.7" y="15" font-size="4.2" font-weight="bold" text-anchor="middle" fill="#fff" >3</text>
<circle cx="413.1" cy="13.4" r="3.05" fill="#c68be6"/>
<text x="413.1" y="15" font-size="4.2" font-weight="bold" text-anchor="middle" fill="#fff" >4</text>
<circle cx="425.6" cy="13.4" r="3.05" fill="#16b356"/>
<text x="425.6" y="15" font-size="4.2" font-weight="bold" text-anchor="middle" fill="#fff" >5</text>
<circle cx="438.2" cy="13.4" r="3.05" fill="#d6d6d6"/>
<text x="438.2" y="15" font-size="4.2" font-weight="bold" text-anchor="middle" fill="#fff" >6</text>
<text x="346.2" y="24.7" font-size="5.8" font-weight="normal" text-anchor="middle" fill="#222" stroke="#222" stroke-width="0.08">miR-21</text>
<line x1="386.7" y1="22.7" x2="389.7" y2="22.7" stroke="#3a3630" stroke-width="0.85" />
<line x1="388.2" y1="21.2" x2="388.2" y2="24.2" stroke="#3a3630" stroke-width="0.85" />
<line x1="399.2" y1="22.7" x2="402.2" y2="22.7" stroke="#3a3630" stroke-width="0.85" />
<line x1="400.7" y1="21.2" x2="400.7" y2="24.2" stroke="#3a3630" stroke-width="0.85" />
<line x1="411.6" y1="22.7" x2="414.6" y2="22.7" stroke="#3a3630" stroke-width="0.85" />
<line x1="413.1" y1="21.2" x2="413.1" y2="24.2" stroke="#3a3630" stroke-width="0.85" />
<line x1="424.1" y1="22.7" x2="427.1" y2="22.7" stroke="#3a3630" stroke-width="0.85" />
<line x1="425.6" y1="21.2" x2="425.6" y2="24.2" stroke="#3a3630" stroke-width="0.85" />
<line x1="436.3" y1="22.7" x2="440.1" y2="22.7" stroke="#666" stroke-width="0.7" />
<text x="346.2" y="35.2" font-size="5.8" font-weight="normal" text-anchor="middle" fill="#222" stroke="#222" stroke-width="0.08">padlock probe</text>
<line x1="386.7" y1="33.2" x2="389.7" y2="33.2" stroke="#3a3630" stroke-width="0.85" />
<line x1="388.2" y1="31.7" x2="388.2" y2="34.7" stroke="#3a3630" stroke-width="0.85" />
<line x1="399.2" y1="33.2" x2="402.2" y2="33.2" stroke="#3a3630" stroke-width="0.85" />
<line x1="400.7" y1="31.7" x2="400.7" y2="34.7" stroke="#3a3630" stroke-width="0.85" />
<line x1="411.6" y1="33.2" x2="414.6" y2="33.2" stroke="#3a3630" stroke-width="0.85" />
<line x1="413.1" y1="31.7" x2="413.1" y2="34.7" stroke="#3a3630" stroke-width="0.85" />
<line x1="424.1" y1="33.2" x2="427.1" y2="33.2" stroke="#3a3630" stroke-width="0.85" />
<line x1="425.6" y1="31.7" x2="425.6" y2="34.7" stroke="#3a3630" stroke-width="0.85" />
<line x1="436.7" y1="33.2" x2="439.7" y2="33.2" stroke="#3a3630" stroke-width="0.85" />
<line x1="438.2" y1="31.7" x2="438.2" y2="34.7" stroke="#3a3630" stroke-width="0.85" />
<text x="346.2" y="45.5" font-size="5.8" font-weight="normal" text-anchor="middle" fill="#222" stroke="#222" stroke-width="0.08">T4 DNA ligase</text>
<line x1="386.7" y1="43.5" x2="389.7" y2="43.5" stroke="#3a3630" stroke-width="0.85" />
<line x1="388.2" y1="42" x2="388.2" y2="45" stroke="#3a3630" stroke-width="0.85" />
<line x1="398.8" y1="43.5" x2="402.6" y2="43.5" stroke="#999" stroke-width="0.6" />
<line x1="411.6" y1="43.5" x2="414.6" y2="43.5" stroke="#3a3630" stroke-width="0.85" />
<line x1="413.1" y1="42" x2="413.1" y2="45" stroke="#3a3630" stroke-width="0.85" />
<line x1="424.1" y1="43.5" x2="427.1" y2="43.5" stroke="#3a3630" stroke-width="0.85" />
<line x1="425.6" y1="42" x2="425.6" y2="45" stroke="#3a3630" stroke-width="0.85" />
<line x1="436.7" y1="43.5" x2="439.7" y2="43.5" stroke="#3a3630" stroke-width="0.85" />
<line x1="438.2" y1="42" x2="438.2" y2="45" stroke="#3a3630" stroke-width="0.85" />
<text x="346.2" y="56.3" font-size="5.8" font-weight="normal" text-anchor="middle" fill="#222" stroke="#222" stroke-width="0.08">primer</text>
<line x1="386.7" y1="54.3" x2="389.7" y2="54.3" stroke="#3a3630" stroke-width="0.85" />
<line x1="388.2" y1="52.8" x2="388.2" y2="55.8" stroke="#3a3630" stroke-width="0.85" />
<line x1="399.2" y1="54.3" x2="402.2" y2="54.3" stroke="#3a3630" stroke-width="0.85" />
<line x1="400.7" y1="52.8" x2="400.7" y2="55.8" stroke="#3a3630" stroke-width="0.85" />
<line x1="411.2" y1="54.3" x2="415" y2="54.3" stroke="#999" stroke-width="0.6" />
<line x1="424.1" y1="54.3" x2="427.1" y2="54.3" stroke="#3a3630" stroke-width="0.85" />
<line x1="425.6" y1="52.8" x2="425.6" y2="55.8" stroke="#3a3630" stroke-width="0.85" />
<line x1="436.7" y1="54.3" x2="439.7" y2="54.3" stroke="#3a3630" stroke-width="0.85" />
<line x1="438.2" y1="52.8" x2="438.2" y2="55.8" stroke="#3a3630" stroke-width="0.85" />
<text x="346.2" y="67.1" font-size="5.8" font-weight="normal" text-anchor="middle" fill="#222" stroke="#222" stroke-width="0.08">Phi29 DNA polymerase</text>
<line x1="386.7" y1="65.1" x2="389.7" y2="65.1" stroke="#3a3630" stroke-width="0.85" />
<line x1="388.2" y1="63.6" x2="388.2" y2="66.6" stroke="#3a3630" stroke-width="0.85" />
<line x1="399.2" y1="65.1" x2="402.2" y2="65.1" stroke="#3a3630" stroke-width="0.85" />
<line x1="400.7" y1="63.6" x2="400.7" y2="66.6" stroke="#3a3630" stroke-width="0.85" />
<line x1="411.6" y1="65.1" x2="414.6" y2="65.1" stroke="#3a3630" stroke-width="0.85" />
<line x1="413.1" y1="63.6" x2="413.1" y2="66.6" stroke="#3a3630" stroke-width="0.85" />
<line x1="423.7" y1="65.1" x2="427.5" y2="65.1" stroke="#999" stroke-width="0.6" />
<line x1="436.7" y1="65.1" x2="439.7" y2="65.1" stroke="#3a3630" stroke-width="0.85" />
<line x1="438.2" y1="63.6" x2="438.2" y2="66.6" stroke="#3a3630" stroke-width="0.85" />
<rect x="363.4" y="69.3" width="80.8" height="160.3" fill="#1d1d1d"/>
<rect x="363.4" y="69.3" width="2.0" height="160.3" fill="#0e0e0e"/>
<rect x="367" y="80" width="9.6" height="146" fill="url(#ladsm)" filter="url(#bl)"/>
<rect x="366" y="117.3" width="11.6" height="6.8" rx="3" fill="#fff" opacity="0.5" filter="url(#bl4)"/>
<rect x="367.2" y="118.9" width="9.3" height="3.6" rx="1.6" fill="#f6f6f6" opacity="1" filter="url(#bl)"/>
<rect x="366" y="121.2" width="11.6" height="6.8" rx="3" fill="#fff" opacity="0.5" filter="url(#bl4)"/>
<rect x="367.2" y="122.8" width="9.3" height="3.6" rx="1.6" fill="#f6f6f6" opacity="1" filter="url(#bl)"/>
<rect x="366" y="133.2" width="11.6" height="6.8" rx="3" fill="#fff" opacity="0.45" filter="url(#bl4)"/>
<rect x="367.2" y="134.8" width="9.3" height="3.6" rx="1.6" fill="#f6f6f6" opacity="1" filter="url(#bl)"/>
<rect x="366" y="141.2" width="11.6" height="6.8" rx="3" fill="#fff" opacity="0.45" filter="url(#bl4)"/>
<rect x="367.2" y="142.8" width="9.3" height="3.6" rx="1.6" fill="#f6f6f6" opacity="1" filter="url(#bl)"/>
<rect x="366" y="154.1" width="11.6" height="6.8" rx="3" fill="#fff" opacity="0.4" filter="url(#bl4)"/>
<rect x="367.2" y="155.7" width="9.3" height="3.6" rx="1.6" fill="#f6f6f6" opacity="1" filter="url(#bl)"/>
<rect x="366" y="176.4" width="11.6" height="6.8" rx="3" fill="#fff" opacity="0.35" filter="url(#bl4)"/>
<rect x="367.2" y="178" width="9.3" height="3.6" rx="1.6" fill="#f6f6f6" opacity="0.85" filter="url(#bl)"/>
<rect x="366" y="201.1" width="11.6" height="6.8" rx="3" fill="#fff" opacity="0.35" filter="url(#bl4)"/>
<rect x="367.2" y="202.7" width="9.3" height="3.6" rx="1.6" fill="#f6f6f6" opacity="0.85" filter="url(#bl)"/>
<rect x="383.0" y="80.0" width="10.9" height="7.4" rx="3" fill="#fff" opacity="0.25" filter="url(#bl4)"/>
<rect x="383.8" y="80.9" width="9.3" height="5.6" rx="2.2" fill="#dedede" stroke="#fafafa" stroke-width="1.1"/>
<rect x="385.2" y="82.9" width="6.5" height="0.9" fill="#f0f0f0"/>
<rect x="409.3" y="80.0" width="10.9" height="7.4" rx="3" fill="#fff" opacity="0.25" filter="url(#bl4)"/>
<rect x="410.1" y="80.9" width="9.3" height="5.6" rx="2.2" fill="#dedede" stroke="#fafafa" stroke-width="1.1"/>
<rect x="411.5" y="82.9" width="6.5" height="0.9" fill="#f0f0f0"/>
<path d="M388.4,87.2 V96.2 M414.7,87.2 V96.2 M388.4,96.2 H449.5" stroke="#8a8a8a" stroke-width="0.8" fill="none"/>
<path d="M451.2,96.2 L448.4,94.8 L448.4,97.6 Z" fill="#8a8a8a"/>
<line x1="453.6" y1="91.5" x2="462" y2="91.5" stroke="#f6aa00" stroke-width="1.3" />
<path d="M462,91.5 A8.45,8 0 0 0 464.96,97.58" stroke="#222" stroke-width="1.7" fill="none"/>
<path d="M464.96,97.58 A8.45,8 0 0 0 475.94,97.58" stroke="#4cc23a" stroke-width="1.7" fill="none"/>
<path d="M475.94,97.58 A8.45,8 0 0 0 478.9,91.5" stroke="#222" stroke-width="1.7" fill="none"/>
<line x1="478.9" y1="91.5" x2="487.3" y2="91.5" stroke="#f6aa00" stroke-width="1.3" />
<path d="M487.3,91.5 A8.45,8 0 0 0 490.26,97.58" stroke="#222" stroke-width="1.7" fill="none"/>
<path d="M490.26,97.58 A8.45,8 0 0 0 501.24,97.58" stroke="#4cc23a" stroke-width="1.7" fill="none"/>
<path d="M501.24,97.58 A8.45,8 0 0 0 504.2,91.5" stroke="#222" stroke-width="1.7" fill="none"/>
<line x1="504.2" y1="91.5" x2="512.6" y2="91.5" stroke="#f6aa00" stroke-width="1.3" />
<path d="M512.6,91.5 A8.45,8 0 0 0 515.56,97.58" stroke="#222" stroke-width="1.7" fill="none"/>
<path d="M515.56,97.58 A8.45,8 0 0 0 526.54,97.58" stroke="#4cc23a" stroke-width="1.7" fill="none"/>
<path d="M526.54,97.58 A8.45,8 0 0 0 529.5,91.5" stroke="#222" stroke-width="1.7" fill="none"/>
<circle cx="535" cy="93.1" r="0.95" fill="#111"/>
<circle cx="538.9" cy="93.1" r="0.95" fill="#111"/>
<circle cx="542.8" cy="93.1" r="0.95" fill="#111"/>
<text x="361.5" y="122.9" font-size="6.3" font-weight="normal" text-anchor="end" fill="#111" stroke="#111" stroke-width="0.12">2000bp</text>
<text x="361.5" y="127.6" font-size="6.3" font-weight="normal" text-anchor="end" fill="#111" stroke="#111" stroke-width="0.12">1600bp</text>
<text x="361.5" y="138.8" font-size="6.3" font-weight="normal" text-anchor="end" fill="#111" stroke="#111" stroke-width="0.12">1000bp</text>
<text x="361.5" y="147.8" font-size="6.3" font-weight="normal" text-anchor="end" fill="#111" stroke="#111" stroke-width="0.12">750bp</text>
<text x="361.5" y="160.5" font-size="6.3" font-weight="normal" text-anchor="end" fill="#111" stroke="#111" stroke-width="0.12">500bp</text>
<text x="361.5" y="182" font-size="6.3" font-weight="normal" text-anchor="end" fill="#111" stroke="#111" stroke-width="0.12">250bp</text>
<text x="361.5" y="206.7" font-size="6.3" font-weight="normal" text-anchor="end" fill="#111" stroke="#111" stroke-width="0.12">100bp</text>
<text x="8" y="238" font-size="14.5" font-weight="normal" text-anchor="start" fill="#000" >(c)</text>
<rect x="70.7" y="255.1" width="143.1" height="116.4" fill="none" stroke="#000" stroke-width="1.4"/>
<line x1="70.7" y1="360.1" x2="72.9" y2="360.1" stroke="#000" stroke-width="1" />
<text x="68.2" y="363.5" font-size="9.6" font-weight="bold" text-anchor="end" fill="#000" stroke="#000" stroke-width="0.12">0.0</text>
<line x1="70.7" y1="336.78" x2="72.9" y2="336.78" stroke="#000" stroke-width="1" />
<text x="68.2" y="340.18" font-size="9.6" font-weight="bold" text-anchor="end" fill="#000" stroke="#000" stroke-width="0.12">5.0</text>
<line x1="70.7" y1="313.45" x2="72.9" y2="313.45" stroke="#000" stroke-width="1" />
<text x="68.2" y="316.85" font-size="9.6" font-weight="bold" text-anchor="end" fill="#000" stroke="#000" stroke-width="0.12">10.0</text>
<line x1="70.7" y1="290.12" x2="72.9" y2="290.12" stroke="#000" stroke-width="1" />
<text x="68.2" y="293.52" font-size="9.6" font-weight="bold" text-anchor="end" fill="#000" stroke="#000" stroke-width="0.12">15.0</text>
<line x1="70.7" y1="266.8" x2="72.9" y2="266.8" stroke="#000" stroke-width="1" />
<text x="68.2" y="270.2" font-size="9.6" font-weight="bold" text-anchor="end" fill="#000" stroke="#000" stroke-width="0.12">20.0</text>
<line x1="82.3" y1="371.5" x2="82.3" y2="369.3" stroke="#000" stroke-width="1" />
<text x="82.3" y="381.9" font-size="9" font-weight="bold" text-anchor="middle" fill="#000" stroke="#000" stroke-width="0.12">0</text>
<line x1="105.98" y1="371.5" x2="105.98" y2="369.3" stroke="#000" stroke-width="1" />
<text x="105.98" y="381.9" font-size="9" font-weight="bold" text-anchor="middle" fill="#000" stroke="#000" stroke-width="0.12">200</text>
<line x1="129.66" y1="371.5" x2="129.66" y2="369.3" stroke="#000" stroke-width="1" />
<text x="129.66" y="381.9" font-size="9" font-weight="bold" text-anchor="middle" fill="#000" stroke="#000" stroke-width="0.12">400</text>
<line x1="153.34" y1="371.5" x2="153.34" y2="369.3" stroke="#000" stroke-width="1" />
<text x="153.34" y="381.9" font-size="9" font-weight="bold" text-anchor="middle" fill="#000" stroke="#000" stroke-width="0.12">600</text>
<line x1="177.02" y1="371.5" x2="177.02" y2="369.3" stroke="#000" stroke-width="1" />
<text x="177.02" y="381.9" font-size="9" font-weight="bold" text-anchor="middle" fill="#000" stroke="#000" stroke-width="0.12">800</text>
<line x1="200.7" y1="371.5" x2="200.7" y2="369.3" stroke="#000" stroke-width="1" />
<text x="200.7" y="381.9" font-size="9" font-weight="bold" text-anchor="middle" fill="#000" stroke="#000" stroke-width="0.12">1000</text>
<text x="139.3" y="395.4" font-size="10.9" font-weight="bold" text-anchor="middle" fill="#000" stroke="#000" stroke-width="0.22">Size (nm)</text>
<text transform="translate(45.2,313.8) rotate(-90)" font-size="9.9" font-weight="bold" text-anchor="middle" stroke="#000" stroke-width="0.2">Number (Percent)</text>
<path d="M82.3,360.1 L82.68,360.1 L83.06,360.1 L83.45,360.1 L83.83,360.1 L84.21,360.1 L84.59,360.1 L84.98,360.1 L85.36,360.1 L85.74,360.1 L86.12,360.1 L86.51,360.1 L86.89,360.1 L87.27,360.1 L87.65,360.1 L88.03,360.1 L88.42,360.1 L88.8,360.1 L89.18,360.1 L89.56,360.1 L89.95,360.1 L90.33,360.1 L90.71,360.1 L91.09,360.1 L91.47,360.1 L91.86,360.1 L92.24,360.1 L92.62,360.1 L93,360.1 L93.39,360.1 L93.77,360.1 L94.15,360.1 L94.53,360.1 L94.92,360.1 L95.3,360.1 L95.68,360.1 L96.06,360.1 L96.44,360.1 L96.83,360.1 L97.21,360.1 L97.59,360.1 L97.97,360.1 L98.36,360.1 L98.74,360.1 L99.12,360.1 L99.5,360.06 L99.88,359.94 L100.27,359.74 L100.65,359.41 L101.03,358.97 L101.41,358.39 L101.8,357.7 L102.18,356.87 L102.56,355.88 L102.94,354.77 L103.33,353.54 L103.71,352.22 L104.09,350.8 L104.47,349.27 L104.85,347.6 L105.24,345.75 L105.62,343.71 L106,341.51 L106.38,339.14 L106.77,336.65 L107.15,334.05 L107.53,331.36 L107.91,328.6 L108.29,325.81 L108.68,323.01 L109.06,320.24 L109.44,317.48 L109.82,314.75 L110.21,312 L110.59,309.23 L110.97,306.46 L111.35,303.69 L111.74,300.96 L112.12,298.29 L112.5,295.7 L112.88,293.19 L113.26,290.78 L113.65,288.51 L114.03,286.39 L114.41,284.44 L114.79,282.66 L115.18,281.04 L115.56,279.55 L115.94,278.19 L116.32,276.97 L116.7,275.88 L117.09,274.94 L117.47,274.13 L117.85,273.44 L118.23,272.85 L118.62,272.35 L119,271.95 L119.38,271.65 L119.76,271.43 L120.15,271.3 L120.53,271.25 L120.91,271.25 L121.29,271.31 L121.67,271.43 L122.06,271.61 L122.44,271.83 L122.82,272.11 L123.2,272.44 L123.59,272.82 L123.97,273.27 L124.35,273.77 L124.73,274.33 L125.11,274.95 L125.5,275.63 L125.88,276.37 L126.26,277.16 L126.64,278 L127.03,278.87 L127.41,279.78 L127.79,280.71 L128.17,281.67 L128.56,282.65 L128.94,283.65 L129.32,284.67 L129.7,285.7 L130.08,286.74 L130.47,287.79 L130.85,288.84 L131.23,289.89 L131.61,290.93 L132,291.96 L132.38,292.99 L132.76,294.01 L133.14,295.02 L133.52,296.04 L133.91,297.05 L134.29,298.07 L134.67,299.07 L135.05,300.08 L135.44,301.08 L135.82,302.08 L136.2,303.08 L136.58,304.07 L136.97,305.06 L137.35,306.05 L137.73,307.04 L138.11,308.02 L138.49,309 L138.88,309.98 L139.26,310.95 L139.64,311.92 L140.02,312.88 L140.41,313.83 L140.79,314.78 L141.17,315.71 L141.55,316.64 L141.93,317.56 L142.32,318.47 L142.7,319.38 L143.08,320.28 L143.46,321.17 L143.85,322.05 L144.23,322.93 L144.61,323.8 L144.99,324.65 L145.38,325.5 L145.76,326.33 L146.14,327.15 L146.52,327.96 L146.9,328.75 L147.29,329.53 L147.67,330.3 L148.05,331.06 L148.43,331.8 L148.82,332.54 L149.2,333.26 L149.58,333.98 L149.96,334.68 L150.34,335.36 L150.73,336.03 L151.11,336.69 L151.49,337.32 L151.87,337.93 L152.26,338.53 L152.64,339.11 L153.02,339.67 L153.4,340.21 L153.79,340.75 L154.17,341.27 L154.55,341.78 L154.93,342.28 L155.31,342.77 L155.7,343.25 L156.08,343.73 L156.46,344.19 L156.84,344.65 L157.23,345.09 L157.61,345.52 L157.99,345.95 L158.37,346.36 L158.75,346.76 L159.14,347.15 L159.52,347.53 L159.9,347.89 L160.28,348.25 L160.67,348.59 L161.05,348.93 L161.43,349.25 L161.81,349.57 L162.2,349.88 L162.58,350.18 L162.96,350.47 L163.34,350.76 L163.72,351.05 L164.11,351.32 L164.49,351.59 L164.87,351.86 L165.25,352.11 L165.64,352.36 L166.02,352.61 L166.4,352.84 L166.78,353.07 L167.16,353.29 L167.55,353.5 L167.93,353.71 L168.31,353.9 L168.69,354.09 L169.08,354.28 L169.46,354.46 L169.84,354.63 L170.22,354.8 L170.61,354.96 L170.99,355.12 L171.37,355.28 L171.75,355.44 L172.13,355.59 L172.52,355.74 L172.9,355.89 L173.28,356.03 L173.66,356.17 L174.05,356.31 L174.43,356.45 L174.81,356.58 L175.19,356.7 L175.57,356.83 L175.96,356.95 L176.34,357.06 L176.72,357.17 L177.1,357.28 L177.49,357.38 L177.87,357.48 L178.25,357.58 L178.63,357.67 L179.02,357.75 L179.4,357.83 L179.78,357.91 L180.16,357.98 L180.54,358.06 L180.93,358.13 L181.31,358.19 L181.69,358.26 L182.07,358.33 L182.46,358.39 L182.84,358.46 L183.22,358.52 L183.6,358.59 L183.98,358.65 L184.37,358.71 L184.75,358.78 L185.13,358.84 L185.51,358.9 L185.9,358.95 L186.28,359.01 L186.66,359.07 L187.04,359.12 L187.43,359.18 L187.81,359.23 L188.19,359.28 L188.57,359.33 L188.95,359.38 L189.34,359.42 L189.72,359.47 L190.1,359.51 L190.48,359.55 L190.87,359.59 L191.25,359.63 L191.63,359.66 L192.01,359.69 L192.39,359.72 L192.78,359.75 L193.16,359.78 L193.54,359.8 L193.92,359.82 L194.31,359.84 L194.69,359.85 L195.07,359.87 L195.45,359.88 L195.84,359.89 L196.22,359.89 L196.6,359.9" stroke="#222" stroke-width="1.1" fill="none" stroke-linejoin="round"/>
<text x="299" y="241.6" font-size="14.5" font-weight="normal" text-anchor="start" fill="#000" >(d)</text>
<rect x="322.2" y="252.8" width="137.8" height="138.2" fill="#cecece"/>
<g clip-path="url(#semclip)">
<rect x="322.2" y="252.8" width="137.8" height="138.2" filter="url(#haze)" opacity="0.5"/>
<g filter="url(#dend)">
<circle cx="329.6" cy="267.4" r="9.75" fill="url(#blobg)"/>
<circle cx="324.37" cy="269.01" r="2.32" fill="#4a4a4a" opacity="0.5"/>
<circle cx="324.44" cy="268.53" r="1.97" fill="#4a4a4a" opacity="0.5"/>
<circle cx="331.71" cy="272.25" r="2.01" fill="#4a4a4a" opacity="0.5"/>
<circle cx="330.59" cy="263.81" r="1.67" fill="#4a4a4a" opacity="0.5"/>
<circle cx="335" cy="270.86" r="2.08" fill="#4a4a4a" opacity="0.5"/>
<circle cx="336.42" cy="269.24" r="2.36" fill="#4a4a4a" opacity="0.5"/>
<circle cx="326.37" cy="262.72" r="1.52" fill="#4a4a4a" opacity="0.5"/>
<circle cx="334.93" cy="267.9" r="1.41" fill="#4a4a4a" opacity="0.5"/>
<circle cx="331.17" cy="271.38" r="1.38" fill="#4a4a4a" opacity="0.5"/>
<circle cx="324.7" cy="268.53" r="2.23" fill="#4a4a4a" opacity="0.5"/>
<circle cx="343.5" cy="269.2" r="6.76" fill="url(#blobg)"/>
<circle cx="339.52" cy="268.72" r="1.3" fill="#4a4a4a" opacity="0.5"/>
<circle cx="341.65" cy="266.19" r="1.14" fill="#4a4a4a" opacity="0.5"/>
<circle cx="348.43" cy="269.13" r="1.55" fill="#4a4a4a" opacity="0.5"/>
<circle cx="342.67" cy="266.15" r="1.1" fill="#4a4a4a" opacity="0.5"/>
<circle cx="342.89" cy="271.65" r="1.49" fill="#4a4a4a" opacity="0.5"/>
<circle cx="339.82" cy="271.86" r="1.22" fill="#4a4a4a" opacity="0.5"/>
<circle cx="347.89" cy="268.02" r="0.94" fill="#4a4a4a" opacity="0.5"/>
<circle cx="344.68" cy="273.76" r="1.28" fill="#4a4a4a" opacity="0.5"/>
<circle cx="346.85" cy="268.78" r="0.99" fill="#4a4a4a" opacity="0.5"/>
<circle cx="340.5" cy="266.03" r="1.13" fill="#4a4a4a" opacity="0.5"/>
<circle cx="355.7" cy="262.2" r="8.45" fill="url(#blobg)"/>
<circle cx="359.12" cy="264.29" r="2.05" fill="#4a4a4a" opacity="0.5"/>
<circle cx="355.87" cy="258.9" r="1.39" fill="#4a4a4a" opacity="0.5"/>
<circle cx="358.21" cy="264.05" r="1.9" fill="#4a4a4a" opacity="0.5"/>
<circle cx="357.78" cy="266.46" r="1.58" fill="#4a4a4a" opacity="0.5"/>
<circle cx="357.63" cy="267.14" r="1.29" fill="#4a4a4a" opacity="0.5"/>
<circle cx="353.65" cy="259.61" r="1.55" fill="#4a4a4a" opacity="0.5"/>
<circle cx="356.58" cy="265.9" r="2.05" fill="#4a4a4a" opacity="0.5"/>
<circle cx="356.99" cy="258.5" r="1.98" fill="#4a4a4a" opacity="0.5"/>
<circle cx="356.73" cy="266.28" r="1.95" fill="#4a4a4a" opacity="0.5"/>
<circle cx="353.66" cy="259.67" r="2.07" fill="#4a4a4a" opacity="0.5"/>
<circle cx="372.2" cy="263.1" r="8.45" fill="url(#blobg)"/>
<circle cx="373.06" cy="266.76" r="1.87" fill="#4a4a4a" opacity="0.5"/>
<circle cx="370.35" cy="266.52" r="1.24" fill="#4a4a4a" opacity="0.5"/>
<circle cx="376.27" cy="265.69" r="1.39" fill="#4a4a4a" opacity="0.5"/>
<circle cx="368.88" cy="260.64" r="1.58" fill="#4a4a4a" opacity="0.5"/>
<circle cx="376.55" cy="261.96" r="1.69" fill="#4a4a4a" opacity="0.5"/>
<circle cx="374.55" cy="260.48" r="1.31" fill="#4a4a4a" opacity="0.5"/>
<circle cx="376.88" cy="260.06" r="1.4" fill="#4a4a4a" opacity="0.5"/>
<circle cx="374.17" cy="268.05" r="2.03" fill="#4a4a4a" opacity="0.5"/>
<circle cx="374.18" cy="268.78" r="1.97" fill="#4a4a4a" opacity="0.5"/>
<circle cx="368.78" cy="260.5" r="1.26" fill="#4a4a4a" opacity="0.5"/>
<circle cx="345.2" cy="257" r="4.55" fill="url(#blobg)"/>
<circle cx="348.36" cy="257.78" r="0.75" fill="#4a4a4a" opacity="0.5"/>
<circle cx="344.63" cy="255.06" r="1.03" fill="#4a4a4a" opacity="0.5"/>
<circle cx="343.48" cy="255.81" r="0.72" fill="#4a4a4a" opacity="0.5"/>
<circle cx="344.89" cy="255.33" r="0.74" fill="#4a4a4a" opacity="0.5"/>
<circle cx="342.34" cy="255.88" r="0.93" fill="#4a4a4a" opacity="0.5"/>
<circle cx="344.6" cy="260.12" r="0.73" fill="#4a4a4a" opacity="0.5"/>
<circle cx="347.24" cy="257.21" r="0.85" fill="#4a4a4a" opacity="0.5"/>
<circle cx="346.95" cy="257.7" r="0.81" fill="#4a4a4a" opacity="0.5"/>
<circle cx="343.58" cy="256.21" r="0.81" fill="#4a4a4a" opacity="0.5"/>
<circle cx="347.75" cy="254.92" r="0.95" fill="#4a4a4a" opacity="0.5"/>
<circle cx="334.8" cy="280.5" r="6.76" fill="url(#blobg)"/>
<circle cx="333.41" cy="276.9" r="1.04" fill="#4a4a4a" opacity="0.5"/>
<circle cx="337.13" cy="281.02" r="1.6" fill="#4a4a4a" opacity="0.5"/>
<circle cx="333.33" cy="275.88" r="0.95" fill="#4a4a4a" opacity="0.5"/>
<circle cx="332.44" cy="277.79" r="1.47" fill="#4a4a4a" opacity="0.5"/>
<circle cx="332.73" cy="284.98" r="0.99" fill="#4a4a4a" opacity="0.5"/>
<circle cx="330.72" cy="279.28" r="1.59" fill="#4a4a4a" opacity="0.5"/>
<circle cx="334.46" cy="276.34" r="1.51" fill="#4a4a4a" opacity="0.5"/>
<circle cx="337.6" cy="278.84" r="1.43" fill="#4a4a4a" opacity="0.5"/>
<circle cx="338.54" cy="277.81" r="1.24" fill="#4a4a4a" opacity="0.5"/>
<circle cx="335.95" cy="276.06" r="1.35" fill="#4a4a4a" opacity="0.5"/>
<circle cx="347.9" cy="277.9" r="6.76" fill="url(#blobg)"/>
<circle cx="345.54" cy="275.54" r="1.36" fill="#4a4a4a" opacity="0.5"/>
<circle cx="345.92" cy="276.29" r="1.4" fill="#4a4a4a" opacity="0.5"/>
<circle cx="352.52" cy="277.71" r="1.47" fill="#4a4a4a" opacity="0.5"/>
<circle cx="344.65" cy="280.64" r="1.36" fill="#4a4a4a" opacity="0.5"/>
<circle cx="343.69" cy="279.55" r="1" fill="#4a4a4a" opacity="0.5"/>
<circle cx="347.9" cy="275.48" r="1.37" fill="#4a4a4a" opacity="0.5"/>
<circle cx="344.98" cy="278.25" r="1.44" fill="#4a4a4a" opacity="0.5"/>
<circle cx="343.96" cy="277.97" r="1.61" fill="#4a4a4a" opacity="0.5"/>
<circle cx="347.81" cy="280.27" r="1.16" fill="#4a4a4a" opacity="0.5"/>
<circle cx="346.65" cy="275.32" r="1.06" fill="#4a4a4a" opacity="0.5"/>
<circle cx="360.9" cy="280.5" r="7.8" fill="url(#blobg)"/>
<circle cx="364.78" cy="277.89" r="1.45" fill="#4a4a4a" opacity="0.5"/>
<circle cx="363.76" cy="278.18" r="1.64" fill="#4a4a4a" opacity="0.5"/>
<circle cx="362.17" cy="284.29" r="1.76" fill="#4a4a4a" opacity="0.5"/>
<circle cx="365.48" cy="277.76" r="1.4" fill="#4a4a4a" opacity="0.5"/>
<circle cx="357.74" cy="278.68" r="1.19" fill="#4a4a4a" opacity="0.5"/>
<circle cx="355.69" cy="280.62" r="1.79" fill="#4a4a4a" opacity="0.5"/>
<circle cx="359.56" cy="275.11" r="1.31" fill="#4a4a4a" opacity="0.5"/>
<circle cx="362.87" cy="284.04" r="1.31" fill="#4a4a4a" opacity="0.5"/>
<circle cx="361.78" cy="284.34" r="1.61" fill="#4a4a4a" opacity="0.5"/>
<circle cx="357.26" cy="280.64" r="1.78" fill="#4a4a4a" opacity="0.5"/>
<circle cx="372.5" cy="279.6" r="5.72" fill="url(#blobg)"/>
<circle cx="375.46" cy="279.26" r="0.84" fill="#4a4a4a" opacity="0.5"/>
<circle cx="376.32" cy="280.37" r="0.82" fill="#4a4a4a" opacity="0.5"/>
<circle cx="371.67" cy="276.47" r="0.98" fill="#4a4a4a" opacity="0.5"/>
<circle cx="373.02" cy="277.65" r="0.88" fill="#4a4a4a" opacity="0.5"/>
<circle cx="370.55" cy="280.17" r="1.3" fill="#4a4a4a" opacity="0.5"/>
<circle cx="372.68" cy="281.88" r="0.82" fill="#4a4a4a" opacity="0.5"/>
<circle cx="370.46" cy="277.45" r="1.18" fill="#4a4a4a" opacity="0.5"/>
<circle cx="370.39" cy="276.49" r="1.38" fill="#4a4a4a" opacity="0.5"/>
<circle cx="371.53" cy="277.38" r="1.08" fill="#4a4a4a" opacity="0.5"/>
<circle cx="373.37" cy="281.41" r="1.08" fill="#4a4a4a" opacity="0.5"/>
<circle cx="324.4" cy="291.8" r="5.72" fill="url(#blobg)"/>
<circle cx="323.87" cy="289.49" r="0.96" fill="#4a4a4a" opacity="0.5"/>
<circle cx="322.41" cy="294.7" r="1.11" fill="#4a4a4a" opacity="0.5"/>
<circle cx="321.66" cy="289.4" r="1.03" fill="#4a4a4a" opacity="0.5"/>
<circle cx="325.43" cy="287.96" r="0.85" fill="#4a4a4a" opacity="0.5"/>
<circle cx="327.65" cy="290.33" r="0.87" fill="#4a4a4a" opacity="0.5"/>
<circle cx="321.19" cy="292.77" r="1.35" fill="#4a4a4a" opacity="0.5"/>
<circle cx="322.09" cy="294.06" r="1.33" fill="#4a4a4a" opacity="0.5"/>
<circle cx="325.57" cy="287.92" r="1.08" fill="#4a4a4a" opacity="0.5"/>
<circle cx="322.99" cy="289.82" r="1.24" fill="#4a4a4a" opacity="0.5"/>
<circle cx="325.81" cy="288.72" r="1.23" fill="#4a4a4a" opacity="0.5"/>
<circle cx="341.8" cy="289.2" r="6.76" fill="url(#blobg)"/>
<circle cx="342.87" cy="293.76" r="1.65" fill="#4a4a4a" opacity="0.5"/>
<circle cx="345.5" cy="288.67" r="1.51" fill="#4a4a4a" opacity="0.5"/>
<circle cx="339.79" cy="293.45" r="1.56" fill="#4a4a4a" opacity="0.5"/>
<circle cx="340.32" cy="291.28" r="1.26" fill="#4a4a4a" opacity="0.5"/>
<circle cx="337.68" cy="287.85" r="1.29" fill="#4a4a4a" opacity="0.5"/>
<circle cx="346.17" cy="289.99" r="0.98" fill="#4a4a4a" opacity="0.5"/>
<circle cx="342.66" cy="286.55" r="1.18" fill="#4a4a4a" opacity="0.5"/>
<circle cx="342.44" cy="286.57" r="1.04" fill="#4a4a4a" opacity="0.5"/>
<circle cx="337.6" cy="288.76" r="1.55" fill="#4a4a4a" opacity="0.5"/>
<circle cx="340.02" cy="284.75" r="1.29" fill="#4a4a4a" opacity="0.5"/>
<circle cx="350.5" cy="289.2" r="4.55" fill="url(#blobg)"/>
<circle cx="352.14" cy="288.66" r="0.74" fill="#4a4a4a" opacity="0.5"/>
<circle cx="348.45" cy="288.85" r="0.99" fill="#4a4a4a" opacity="0.5"/>
<circle cx="348.9" cy="287.29" r="1.04" fill="#4a4a4a" opacity="0.5"/>
<circle cx="348.53" cy="288.42" r="0.82" fill="#4a4a4a" opacity="0.5"/>
<circle cx="352.27" cy="286.6" r="0.73" fill="#4a4a4a" opacity="0.5"/>
<circle cx="352.43" cy="286.56" r="0.89" fill="#4a4a4a" opacity="0.5"/>
<circle cx="348.77" cy="288.35" r="0.89" fill="#4a4a4a" opacity="0.5"/>
<circle cx="347.87" cy="289.15" r="0.64" fill="#4a4a4a" opacity="0.5"/>
<circle cx="352.93" cy="288.73" r="0.83" fill="#4a4a4a" opacity="0.5"/>
<circle cx="351.31" cy="286.77" r="0.87" fill="#4a4a4a" opacity="0.5"/>
<circle cx="360.9" cy="295.3" r="6.76" fill="url(#blobg)"/>
<circle cx="359.99" cy="292.96" r="1.33" fill="#4a4a4a" opacity="0.5"/>
<circle cx="356.76" cy="297.79" r="1.61" fill="#4a4a4a" opacity="0.5"/>
<circle cx="360.47" cy="298.84" r="1.03" fill="#4a4a4a" opacity="0.5"/>
<circle cx="356.82" cy="297.11" r="1.59" fill="#4a4a4a" opacity="0.5"/>
<circle cx="357.77" cy="295.77" r="1.08" fill="#4a4a4a" opacity="0.5"/>
<circle cx="357.4" cy="292.1" r="1.03" fill="#4a4a4a" opacity="0.5"/>
<circle cx="361.34" cy="292.94" r="1.08" fill="#4a4a4a" opacity="0.5"/>
<circle cx="361.49" cy="299.38" r="1.17" fill="#4a4a4a" opacity="0.5"/>
<circle cx="358.47" cy="298.42" r="1.01" fill="#4a4a4a" opacity="0.5"/>
<circle cx="360.58" cy="292.66" r="1.31" fill="#4a4a4a" opacity="0.5"/>
<circle cx="381.8" cy="291.8" r="7.8" fill="url(#blobg)"/>
<circle cx="381.79" cy="295.09" r="1.53" fill="#4a4a4a" opacity="0.5"/>
<circle cx="378.27" cy="293.28" r="1.43" fill="#4a4a4a" opacity="0.5"/>
<circle cx="378.67" cy="291.22" r="1.25" fill="#4a4a4a" opacity="0.5"/>
<circle cx="378.67" cy="288.41" r="1.52" fill="#4a4a4a" opacity="0.5"/>
<circle cx="384.49" cy="288.15" r="1.8" fill="#4a4a4a" opacity="0.5"/>
<circle cx="382.34" cy="296.69" r="1.76" fill="#4a4a4a" opacity="0.5"/>
<circle cx="384.79" cy="289.71" r="1.34" fill="#4a4a4a" opacity="0.5"/>
<circle cx="384.77" cy="290.23" r="1.92" fill="#4a4a4a" opacity="0.5"/>
<circle cx="384.16" cy="289.79" r="1.28" fill="#4a4a4a" opacity="0.5"/>
<circle cx="381.29" cy="288.36" r="1.16" fill="#4a4a4a" opacity="0.5"/>
<circle cx="337.4" cy="300.5" r="7.8" fill="url(#blobg)"/>
<circle cx="339.36" cy="297.05" r="1.74" fill="#4a4a4a" opacity="0.5"/>
<circle cx="340.15" cy="303.28" r="1.66" fill="#4a4a4a" opacity="0.5"/>
<circle cx="340.68" cy="300.87" r="1.65" fill="#4a4a4a" opacity="0.5"/>
<circle cx="342.16" cy="297.54" r="1.18" fill="#4a4a4a" opacity="0.5"/>
<circle cx="332.43" cy="300.32" r="1.5" fill="#4a4a4a" opacity="0.5"/>
<circle cx="336.11" cy="297.5" r="1.14" fill="#4a4a4a" opacity="0.5"/>
<circle cx="339.61" cy="302.24" r="1.54" fill="#4a4a4a" opacity="0.5"/>
<circle cx="333.01" cy="300.09" r="1.2" fill="#4a4a4a" opacity="0.5"/>
<circle cx="338.72" cy="303.54" r="1.79" fill="#4a4a4a" opacity="0.5"/>
<circle cx="342.87" cy="300.17" r="1.16" fill="#4a4a4a" opacity="0.5"/>
<circle cx="327" cy="302.2" r="5.72" fill="url(#blobg)"/>
<circle cx="330.77" cy="303.75" r="1.08" fill="#4a4a4a" opacity="0.5"/>
<circle cx="327.25" cy="299.51" r="1.08" fill="#4a4a4a" opacity="0.5"/>
<circle cx="324.09" cy="301.92" r="1.16" fill="#4a4a4a" opacity="0.5"/>
<circle cx="330.51" cy="302.49" r="1.31" fill="#4a4a4a" opacity="0.5"/>
<circle cx="328.25" cy="304.91" r="1.25" fill="#4a4a4a" opacity="0.5"/>
<circle cx="325" cy="303.55" r="0.89" fill="#4a4a4a" opacity="0.5"/>
<circle cx="324.99" cy="302.04" r="1.34" fill="#4a4a4a" opacity="0.5"/>
<circle cx="328.13" cy="298.85" r="1.32" fill="#4a4a4a" opacity="0.5"/>
<circle cx="325.03" cy="300.12" r="1.16" fill="#4a4a4a" opacity="0.5"/>
<circle cx="322.86" cy="302.09" r="1.29" fill="#4a4a4a" opacity="0.5"/>
<circle cx="351.3" cy="307.5" r="6.76" fill="url(#blobg)"/>
<circle cx="351.06" cy="312.2" r="1.48" fill="#4a4a4a" opacity="0.5"/>
<circle cx="352.08" cy="303.11" r="1.23" fill="#4a4a4a" opacity="0.5"/>
<circle cx="354.98" cy="304.7" r="1.44" fill="#4a4a4a" opacity="0.5"/>
<circle cx="351.77" cy="303.2" r="1.23" fill="#4a4a4a" opacity="0.5"/>
<circle cx="350.87" cy="305.01" r="1.18" fill="#4a4a4a" opacity="0.5"/>
<circle cx="348.98" cy="307.96" r="1.19" fill="#4a4a4a" opacity="0.5"/>
<circle cx="348.75" cy="304.47" r="1.1" fill="#4a4a4a" opacity="0.5"/>
<circle cx="355.13" cy="306.11" r="1.18" fill="#4a4a4a" opacity="0.5"/>
<circle cx="349.25" cy="304.28" r="1.32" fill="#4a4a4a" opacity="0.5"/>
<circle cx="347.5" cy="310.66" r="1.4" fill="#4a4a4a" opacity="0.5"/>
<circle cx="370.5" cy="302.2" r="9.75" fill="url(#blobg)"/>
<circle cx="368.62" cy="296.26" r="2.38" fill="#4a4a4a" opacity="0.5"/>
<circle cx="376.12" cy="303.01" r="2.13" fill="#4a4a4a" opacity="0.5"/>
<circle cx="370.3" cy="307.08" r="1.4" fill="#4a4a4a" opacity="0.5"/>
<circle cx="372.11" cy="306.71" r="1.45" fill="#4a4a4a" opacity="0.5"/>
<circle cx="370.46" cy="308.97" r="1.93" fill="#4a4a4a" opacity="0.5"/>
<circle cx="363.51" cy="301.86" r="1.95" fill="#4a4a4a" opacity="0.5"/>
<circle cx="376.26" cy="302.02" r="2.2" fill="#4a4a4a" opacity="0.5"/>
<circle cx="375.48" cy="304.79" r="2.15" fill="#4a4a4a" opacity="0.5"/>
<circle cx="377.09" cy="304.12" r="1.52" fill="#4a4a4a" opacity="0.5"/>
<circle cx="366.55" cy="302.91" r="1.87" fill="#4a4a4a" opacity="0.5"/>
<circle cx="327" cy="314.4" r="6.76" fill="url(#blobg)"/>
<circle cx="325.09" cy="312.8" r="1.62" fill="#4a4a4a" opacity="0.5"/>
<circle cx="323.74" cy="316.17" r="1.37" fill="#4a4a4a" opacity="0.5"/>
<circle cx="324.95" cy="316.71" r="1.41" fill="#4a4a4a" opacity="0.5"/>
<circle cx="324.14" cy="313.26" r="1.46" fill="#4a4a4a" opacity="0.5"/>
<circle cx="326.32" cy="316.68" r="1.11" fill="#4a4a4a" opacity="0.5"/>
<circle cx="329.65" cy="315.13" r="1.49" fill="#4a4a4a" opacity="0.5"/>
<circle cx="323.4" cy="317.38" r="1.48" fill="#4a4a4a" opacity="0.5"/>
<circle cx="331.67" cy="315.92" r="1.62" fill="#4a4a4a" opacity="0.5"/>
<circle cx="331.2" cy="316.49" r="1.25" fill="#4a4a4a" opacity="0.5"/>
<circle cx="322.18" cy="315.08" r="1.11" fill="#4a4a4a" opacity="0.5"/>
<circle cx="339.2" cy="314.4" r="6.76" fill="url(#blobg)"/>
<circle cx="334.47" cy="313.7" r="1.46" fill="#4a4a4a" opacity="0.5"/>
<circle cx="334.41" cy="315.37" r="1.53" fill="#4a4a4a" opacity="0.5"/>
<circle cx="337.1" cy="312.8" r="1.39" fill="#4a4a4a" opacity="0.5"/>
<circle cx="336.44" cy="315.19" r="0.97" fill="#4a4a4a" opacity="0.5"/>
<circle cx="336.58" cy="313.93" r="1.26" fill="#4a4a4a" opacity="0.5"/>
<circle cx="337.46" cy="311.33" r="1.13" fill="#4a4a4a" opacity="0.5"/>
<circle cx="336.22" cy="312.71" r="1.5" fill="#4a4a4a" opacity="0.5"/>
<circle cx="334.36" cy="313.45" r="1.63" fill="#4a4a4a" opacity="0.5"/>
<circle cx="338.91" cy="311.45" r="1.02" fill="#4a4a4a" opacity="0.5"/>
<circle cx="342.62" cy="311.67" r="1.39" fill="#4a4a4a" opacity="0.5"/>
<circle cx="363.5" cy="314.4" r="6.76" fill="url(#blobg)"/>
<circle cx="361.57" cy="316.76" r="1.43" fill="#4a4a4a" opacity="0.5"/>
<circle cx="359.94" cy="312.86" r="1.4" fill="#4a4a4a" opacity="0.5"/>
<circle cx="363.56" cy="311.57" r="1.12" fill="#4a4a4a" opacity="0.5"/>
<circle cx="368.18" cy="313.8" r="1.58" fill="#4a4a4a" opacity="0.5"/>
<circle cx="365.92" cy="315.01" r="1.13" fill="#4a4a4a" opacity="0.5"/>
<circle cx="359.97" cy="316.19" r="1.01" fill="#4a4a4a" opacity="0.5"/>
<circle cx="361.06" cy="313.75" r="1" fill="#4a4a4a" opacity="0.5"/>
<circle cx="361.81" cy="311.03" r="1.4" fill="#4a4a4a" opacity="0.5"/>
<circle cx="360.99" cy="316.96" r="1.09" fill="#4a4a4a" opacity="0.5"/>
<circle cx="361.13" cy="317.96" r="1.55" fill="#4a4a4a" opacity="0.5"/>
<circle cx="381" cy="313.6" r="6.76" fill="url(#blobg)"/>
<circle cx="383.37" cy="314.79" r="1.53" fill="#4a4a4a" opacity="0.5"/>
<circle cx="377.91" cy="310.56" r="1.09" fill="#4a4a4a" opacity="0.5"/>
<circle cx="378.32" cy="314.98" r="1.53" fill="#4a4a4a" opacity="0.5"/>
<circle cx="378.25" cy="316.56" r="1.66" fill="#4a4a4a" opacity="0.5"/>
<circle cx="379.28" cy="316.95" r="1.48" fill="#4a4a4a" opacity="0.5"/>
<circle cx="384.03" cy="311.95" r="1.2" fill="#4a4a4a" opacity="0.5"/>
<circle cx="384.78" cy="316.24" r="0.99" fill="#4a4a4a" opacity="0.5"/>
<circle cx="384.3" cy="315.5" r="1.29" fill="#4a4a4a" opacity="0.5"/>
<circle cx="379.77" cy="310.74" r="1.5" fill="#4a4a4a" opacity="0.5"/>
<circle cx="383.57" cy="314.93" r="1.42" fill="#4a4a4a" opacity="0.5"/>
<circle cx="388.7" cy="258.2" r="5.85" fill="url(#blobg)"/>
<circle cx="391.06" cy="259.53" r="1.27" fill="#4a4a4a" opacity="0.5"/>
<circle cx="387.78" cy="255.7" r="0.9" fill="#4a4a4a" opacity="0.5"/>
<circle cx="386.41" cy="261.05" r="1.04" fill="#4a4a4a" opacity="0.5"/>
<circle cx="391.38" cy="260.63" r="1.17" fill="#4a4a4a" opacity="0.5"/>
<circle cx="392.31" cy="256.17" r="1.39" fill="#4a4a4a" opacity="0.5"/>
<circle cx="385.16" cy="259.66" r="1" fill="#4a4a4a" opacity="0.5"/>
<circle cx="387.49" cy="260.86" r="1.4" fill="#4a4a4a" opacity="0.5"/>
<circle cx="390.74" cy="256.61" r="1.04" fill="#4a4a4a" opacity="0.5"/>
<circle cx="386.81" cy="260.33" r="1.06" fill="#4a4a4a" opacity="0.5"/>
<circle cx="386.83" cy="259.8" r="1.17" fill="#4a4a4a" opacity="0.5"/>
<circle cx="401.3" cy="256" r="4.81" fill="url(#blobg)"/>
<circle cx="402.08" cy="253.45" r="1.1" fill="#4a4a4a" opacity="0.5"/>
<circle cx="399.46" cy="255.23" r="1.06" fill="#4a4a4a" opacity="0.5"/>
<circle cx="402.9" cy="254.51" r="0.68" fill="#4a4a4a" opacity="0.5"/>
<circle cx="398.64" cy="255.74" r="0.96" fill="#4a4a4a" opacity="0.5"/>
<circle cx="404.11" cy="255.4" r="1.08" fill="#4a4a4a" opacity="0.5"/>
<circle cx="403.76" cy="257.05" r="1.07" fill="#4a4a4a" opacity="0.5"/>
<circle cx="402.87" cy="256.92" r="1.05" fill="#4a4a4a" opacity="0.5"/>
<circle cx="402.77" cy="254.92" r="0.99" fill="#4a4a4a" opacity="0.5"/>
<circle cx="403.18" cy="258.39" r="1" fill="#4a4a4a" opacity="0.5"/>
<circle cx="401.36" cy="258.07" r="1.06" fill="#4a4a4a" opacity="0.5"/>
<circle cx="386.4" cy="270.9" r="6.76" fill="url(#blobg)"/>
<circle cx="382.11" cy="270.32" r="1.22" fill="#4a4a4a" opacity="0.5"/>
<circle cx="383.85" cy="275.04" r="1.43" fill="#4a4a4a" opacity="0.5"/>
<circle cx="382.67" cy="271.05" r="1.46" fill="#4a4a4a" opacity="0.5"/>
<circle cx="385.17" cy="266.34" r="1.23" fill="#4a4a4a" opacity="0.5"/>
<circle cx="388.28" cy="267.28" r="1.56" fill="#4a4a4a" opacity="0.5"/>
<circle cx="387.95" cy="266.67" r="1.58" fill="#4a4a4a" opacity="0.5"/>
<circle cx="390.26" cy="269.85" r="1.32" fill="#4a4a4a" opacity="0.5"/>
<circle cx="385.3" cy="266.61" r="1.24" fill="#4a4a4a" opacity="0.5"/>
<circle cx="384.01" cy="272.2" r="1.48" fill="#4a4a4a" opacity="0.5"/>
<circle cx="389.71" cy="270.71" r="1.06" fill="#4a4a4a" opacity="0.5"/>
<circle cx="399.1" cy="270.1" r="6.76" fill="url(#blobg)"/>
<circle cx="400.07" cy="273.4" r="1.15" fill="#4a4a4a" opacity="0.5"/>
<circle cx="401.55" cy="269.63" r="1.16" fill="#4a4a4a" opacity="0.5"/>
<circle cx="402.12" cy="272.76" r="1.5" fill="#4a4a4a" opacity="0.5"/>
<circle cx="400.17" cy="272.36" r="1.27" fill="#4a4a4a" opacity="0.5"/>
<circle cx="395.04" cy="267.73" r="0.96" fill="#4a4a4a" opacity="0.5"/>
<circle cx="401.29" cy="271.88" r="1.09" fill="#4a4a4a" opacity="0.5"/>
<circle cx="399.49" cy="274.29" r="1.37" fill="#4a4a4a" opacity="0.5"/>
<circle cx="399.56" cy="272.88" r="1.14" fill="#4a4a4a" opacity="0.5"/>
<circle cx="401.12" cy="273.91" r="1.16" fill="#4a4a4a" opacity="0.5"/>
<circle cx="394.84" cy="268.77" r="1.29" fill="#4a4a4a" opacity="0.5"/>
<circle cx="400.6" cy="283.6" r="4.81" fill="url(#blobg)"/>
<circle cx="400.38" cy="286.9" r="1.14" fill="#4a4a4a" opacity="0.5"/>
<circle cx="399.14" cy="285.84" r="1.16" fill="#4a4a4a" opacity="0.5"/>
<circle cx="398.54" cy="283.83" r="0.69" fill="#4a4a4a" opacity="0.5"/>
<circle cx="403.58" cy="282.58" r="0.87" fill="#4a4a4a" opacity="0.5"/>
<circle cx="398.02" cy="283.15" r="0.81" fill="#4a4a4a" opacity="0.5"/>
<circle cx="403.48" cy="283.42" r="0.79" fill="#4a4a4a" opacity="0.5"/>
<circle cx="403.13" cy="283.77" r="0.86" fill="#4a4a4a" opacity="0.5"/>
<circle cx="401.46" cy="280.74" r="0.98" fill="#4a4a4a" opacity="0.5"/>
<circle cx="401.68" cy="285.23" r="0.83" fill="#4a4a4a" opacity="0.5"/>
<circle cx="400.41" cy="286.87" r="0.93" fill="#4a4a4a" opacity="0.5"/>
<circle cx="390.9" cy="291" r="4.81" fill="url(#blobg)"/>
<circle cx="388.62" cy="288.34" r="0.8" fill="#4a4a4a" opacity="0.5"/>
<circle cx="389" cy="290.58" r="1.07" fill="#4a4a4a" opacity="0.5"/>
<circle cx="394.08" cy="291.03" r="1.1" fill="#4a4a4a" opacity="0.5"/>
<circle cx="391.7" cy="289.37" r="0.81" fill="#4a4a4a" opacity="0.5"/>
<circle cx="390.51" cy="289.2" r="0.91" fill="#4a4a4a" opacity="0.5"/>
<circle cx="387.53" cy="291.67" r="0.97" fill="#4a4a4a" opacity="0.5"/>
<circle cx="392.29" cy="289.26" r="1.07" fill="#4a4a4a" opacity="0.5"/>
<circle cx="387.99" cy="292.68" r="0.71" fill="#4a4a4a" opacity="0.5"/>
<circle cx="391.85" cy="289.18" r="0.95" fill="#4a4a4a" opacity="0.5"/>
<circle cx="388.97" cy="290.69" r="1.1" fill="#4a4a4a" opacity="0.5"/>
<circle cx="389.4" cy="300.7" r="5.85" fill="url(#blobg)"/>
<circle cx="388.37" cy="303.22" r="0.86" fill="#4a4a4a" opacity="0.5"/>
<circle cx="388.35" cy="303.59" r="1.26" fill="#4a4a4a" opacity="0.5"/>
<circle cx="387.13" cy="303.46" r="0.88" fill="#4a4a4a" opacity="0.5"/>
<circle cx="386.99" cy="302.59" r="1.42" fill="#4a4a4a" opacity="0.5"/>
<circle cx="391.08" cy="297.63" r="0.82" fill="#4a4a4a" opacity="0.5"/>
<circle cx="386.8" cy="303.23" r="0.96" fill="#4a4a4a" opacity="0.5"/>
<circle cx="386.59" cy="299.5" r="0.82" fill="#4a4a4a" opacity="0.5"/>
<circle cx="393.22" cy="300.5" r="0.94" fill="#4a4a4a" opacity="0.5"/>
<circle cx="387.4" cy="298.92" r="1.05" fill="#4a4a4a" opacity="0.5"/>
<circle cx="386.79" cy="300.03" r="1.02" fill="#4a4a4a" opacity="0.5"/>
<circle cx="400.6" cy="297.8" r="4.81" fill="url(#blobg)"/>
<circle cx="398.34" cy="299.62" r="0.8" fill="#4a4a4a" opacity="0.5"/>
<circle cx="401.53" cy="300.67" r="0.84" fill="#4a4a4a" opacity="0.5"/>
<circle cx="403.15" cy="296.88" r="1.04" fill="#4a4a4a" opacity="0.5"/>
<circle cx="399.03" cy="300.58" r="0.71" fill="#4a4a4a" opacity="0.5"/>
<circle cx="401.77" cy="299.22" r="1.02" fill="#4a4a4a" opacity="0.5"/>
<circle cx="400.08" cy="295.87" r="0.87" fill="#4a4a4a" opacity="0.5"/>
<circle cx="402.03" cy="295.44" r="0.71" fill="#4a4a4a" opacity="0.5"/>
<circle cx="400.89" cy="299.73" r="0.73" fill="#4a4a4a" opacity="0.5"/>
<circle cx="399.1" cy="298.79" r="1.14" fill="#4a4a4a" opacity="0.5"/>
<circle cx="398.26" cy="298.96" r="1" fill="#4a4a4a" opacity="0.5"/>
<circle cx="327.2" cy="329" r="5.85" fill="url(#blobg)"/>
<circle cx="327.61" cy="325.15" r="1.05" fill="#4a4a4a" opacity="0.5"/>
<circle cx="325.75" cy="331.57" r="0.82" fill="#4a4a4a" opacity="0.5"/>
<circle cx="324.28" cy="331.1" r="1.43" fill="#4a4a4a" opacity="0.5"/>
<circle cx="328.07" cy="325.6" r="1.19" fill="#4a4a4a" opacity="0.5"/>
<circle cx="329.95" cy="329.32" r="1.03" fill="#4a4a4a" opacity="0.5"/>
<circle cx="325.88" cy="327.16" r="1.05" fill="#4a4a4a" opacity="0.5"/>
<circle cx="323.41" cy="328.78" r="1.33" fill="#4a4a4a" opacity="0.5"/>
<circle cx="325.38" cy="327.47" r="1.29" fill="#4a4a4a" opacity="0.5"/>
<circle cx="329.87" cy="327.13" r="1.03" fill="#4a4a4a" opacity="0.5"/>
<circle cx="324.86" cy="328.99" r="1.26" fill="#4a4a4a" opacity="0.5"/>
<circle cx="337" cy="334.3" r="7.02" fill="url(#blobg)"/>
<circle cx="340.81" cy="333.98" r="1.51" fill="#4a4a4a" opacity="0.5"/>
<circle cx="338.52" cy="331.75" r="1.69" fill="#4a4a4a" opacity="0.5"/>
<circle cx="334.93" cy="332.18" r="1.03" fill="#4a4a4a" opacity="0.5"/>
<circle cx="337.14" cy="338.28" r="1.5" fill="#4a4a4a" opacity="0.5"/>
<circle cx="334.64" cy="338.64" r="1.25" fill="#4a4a4a" opacity="0.5"/>
<circle cx="334.31" cy="334.94" r="1.71" fill="#4a4a4a" opacity="0.5"/>
<circle cx="340.21" cy="337.97" r="1.38" fill="#4a4a4a" opacity="0.5"/>
<circle cx="333.34" cy="332.83" r="1.17" fill="#4a4a4a" opacity="0.5"/>
<circle cx="341.3" cy="331.54" r="1.59" fill="#4a4a4a" opacity="0.5"/>
<circle cx="334.78" cy="332.66" r="1.6" fill="#4a4a4a" opacity="0.5"/>
<circle cx="345.1" cy="337" r="5.2" fill="url(#blobg)"/>
<circle cx="344.24" cy="340.49" r="0.85" fill="#4a4a4a" opacity="0.5"/>
<circle cx="342" cy="335.46" r="0.82" fill="#4a4a4a" opacity="0.5"/>
<circle cx="343.24" cy="336.42" r="0.74" fill="#4a4a4a" opacity="0.5"/>
<circle cx="346.71" cy="340.42" r="1.25" fill="#4a4a4a" opacity="0.5"/>
<circle cx="343.78" cy="334.97" r="1.1" fill="#4a4a4a" opacity="0.5"/>
<circle cx="344.9" cy="334.44" r="1.05" fill="#4a4a4a" opacity="0.5"/>
<circle cx="345.71" cy="335.27" r="0.83" fill="#4a4a4a" opacity="0.5"/>
<circle cx="343.06" cy="337.42" r="0.94" fill="#4a4a4a" opacity="0.5"/>
<circle cx="343.15" cy="336.09" r="1.01" fill="#4a4a4a" opacity="0.5"/>
<circle cx="344.85" cy="339.93" r="0.91" fill="#4a4a4a" opacity="0.5"/>
<circle cx="358.5" cy="333.4" r="8.45" fill="url(#blobg)"/>
<circle cx="356.58" cy="331.03" r="1.78" fill="#4a4a4a" opacity="0.5"/>
<circle cx="362.21" cy="338.17" r="1.72" fill="#4a4a4a" opacity="0.5"/>
<circle cx="354.31" cy="334.2" r="1.74" fill="#4a4a4a" opacity="0.5"/>
<circle cx="356.49" cy="328.4" r="1.85" fill="#4a4a4a" opacity="0.5"/>
<circle cx="352.37" cy="333.95" r="1.93" fill="#4a4a4a" opacity="0.5"/>
<circle cx="361.11" cy="330.04" r="1.56" fill="#4a4a4a" opacity="0.5"/>
<circle cx="353.13" cy="331.04" r="1.65" fill="#4a4a4a" opacity="0.5"/>
<circle cx="354.22" cy="332.72" r="1.99" fill="#4a4a4a" opacity="0.5"/>
<circle cx="357.17" cy="336.2" r="1.83" fill="#4a4a4a" opacity="0.5"/>
<circle cx="362.79" cy="330.29" r="1.71" fill="#4a4a4a" opacity="0.5"/>
<circle cx="363" cy="343.3" r="7.02" fill="url(#blobg)"/>
<circle cx="363.04" cy="340.05" r="1.42" fill="#4a4a4a" opacity="0.5"/>
<circle cx="365.5" cy="344.47" r="1.31" fill="#4a4a4a" opacity="0.5"/>
<circle cx="359.5" cy="343.24" r="1.01" fill="#4a4a4a" opacity="0.5"/>
<circle cx="361.69" cy="339.68" r="1.15" fill="#4a4a4a" opacity="0.5"/>
<circle cx="361.79" cy="346.58" r="1.15" fill="#4a4a4a" opacity="0.5"/>
<circle cx="367.45" cy="345.34" r="1.7" fill="#4a4a4a" opacity="0.5"/>
<circle cx="360.59" cy="339.18" r="1.29" fill="#4a4a4a" opacity="0.5"/>
<circle cx="364.03" cy="340.45" r="1.54" fill="#4a4a4a" opacity="0.5"/>
<circle cx="358.55" cy="341.32" r="1.05" fill="#4a4a4a" opacity="0.5"/>
<circle cx="363.73" cy="340.63" r="1.38" fill="#4a4a4a" opacity="0.5"/>
<circle cx="379.1" cy="341.5" r="7.8" fill="url(#blobg)"/>
<circle cx="381.67" cy="340.68" r="1.28" fill="#4a4a4a" opacity="0.5"/>
<circle cx="377.98" cy="345" r="1.13" fill="#4a4a4a" opacity="0.5"/>
<circle cx="383.17" cy="338.35" r="1.41" fill="#4a4a4a" opacity="0.5"/>
<circle cx="376.34" cy="345" r="1.12" fill="#4a4a4a" opacity="0.5"/>
<circle cx="384.39" cy="342.55" r="1.34" fill="#4a4a4a" opacity="0.5"/>
<circle cx="373.6" cy="341.56" r="1.9" fill="#4a4a4a" opacity="0.5"/>
<circle cx="375.83" cy="342.07" r="1.33" fill="#4a4a4a" opacity="0.5"/>
<circle cx="383.87" cy="338.98" r="1.24" fill="#4a4a4a" opacity="0.5"/>
<circle cx="381.07" cy="338.3" r="1.48" fill="#4a4a4a" opacity="0.5"/>
<circle cx="381.62" cy="346.21" r="1.92" fill="#4a4a4a" opacity="0.5"/>
<circle cx="325.4" cy="341.5" r="5.85" fill="url(#blobg)"/>
<circle cx="326.42" cy="344.79" r="0.93" fill="#4a4a4a" opacity="0.5"/>
<circle cx="326.96" cy="340.04" r="0.88" fill="#4a4a4a" opacity="0.5"/>
<circle cx="324.99" cy="338.8" r="1.38" fill="#4a4a4a" opacity="0.5"/>
<circle cx="327.88" cy="338.85" r="0.89" fill="#4a4a4a" opacity="0.5"/>
<circle cx="324.02" cy="337.6" r="1.09" fill="#4a4a4a" opacity="0.5"/>
<circle cx="327.62" cy="342.7" r="1" fill="#4a4a4a" opacity="0.5"/>
<circle cx="324.79" cy="339.11" r="0.92" fill="#4a4a4a" opacity="0.5"/>
<circle cx="325.72" cy="345.01" r="1.31" fill="#4a4a4a" opacity="0.5"/>
<circle cx="322.95" cy="344.02" r="1.37" fill="#4a4a4a" opacity="0.5"/>
<circle cx="323.25" cy="340.14" r="1" fill="#4a4a4a" opacity="0.5"/>
<circle cx="337.9" cy="347.7" r="7.8" fill="url(#blobg)"/>
<circle cx="342.11" cy="345.61" r="1.31" fill="#4a4a4a" opacity="0.5"/>
<circle cx="336.01" cy="345.41" r="1.91" fill="#4a4a4a" opacity="0.5"/>
<circle cx="333.91" cy="349.27" r="1.53" fill="#4a4a4a" opacity="0.5"/>
<circle cx="342.22" cy="348.96" r="1.32" fill="#4a4a4a" opacity="0.5"/>
<circle cx="337.87" cy="352.81" r="1.15" fill="#4a4a4a" opacity="0.5"/>
<circle cx="336.81" cy="352.55" r="1.29" fill="#4a4a4a" opacity="0.5"/>
<circle cx="337.11" cy="351.97" r="1.24" fill="#4a4a4a" opacity="0.5"/>
<circle cx="342.42" cy="344.29" r="1.11" fill="#4a4a4a" opacity="0.5"/>
<circle cx="333.09" cy="348.88" r="1.4" fill="#4a4a4a" opacity="0.5"/>
<circle cx="341.69" cy="345.89" r="1.23" fill="#4a4a4a" opacity="0.5"/>
<circle cx="352.2" cy="322.7" r="5.85" fill="url(#blobg)"/>
<circle cx="348.94" cy="321.5" r="1.04" fill="#4a4a4a" opacity="0.5"/>
<circle cx="350.14" cy="319.53" r="1.14" fill="#4a4a4a" opacity="0.5"/>
<circle cx="348.28" cy="322.56" r="1.24" fill="#4a4a4a" opacity="0.5"/>
<circle cx="348.07" cy="322.16" r="0.92" fill="#4a4a4a" opacity="0.5"/>
<circle cx="352.64" cy="320.34" r="1.19" fill="#4a4a4a" opacity="0.5"/>
<circle cx="352.48" cy="325.7" r="1.3" fill="#4a4a4a" opacity="0.5"/>
<circle cx="353.07" cy="318.99" r="0.96" fill="#4a4a4a" opacity="0.5"/>
<circle cx="349.68" cy="322.87" r="1.18" fill="#4a4a4a" opacity="0.5"/>
<circle cx="350.1" cy="322.71" r="1.19" fill="#4a4a4a" opacity="0.5"/>
<circle cx="351.47" cy="319.47" r="1.36" fill="#4a4a4a" opacity="0.5"/>
<circle cx="373.7" cy="322.7" r="5.85" fill="url(#blobg)"/>
<circle cx="374.71" cy="324.84" r="0.82" fill="#4a4a4a" opacity="0.5"/>
<circle cx="370.7" cy="322.77" r="1.09" fill="#4a4a4a" opacity="0.5"/>
<circle cx="373.39" cy="326.51" r="0.86" fill="#4a4a4a" opacity="0.5"/>
<circle cx="376.46" cy="320.88" r="1.15" fill="#4a4a4a" opacity="0.5"/>
<circle cx="374.36" cy="320.23" r="0.9" fill="#4a4a4a" opacity="0.5"/>
<circle cx="372.91" cy="324.67" r="1.01" fill="#4a4a4a" opacity="0.5"/>
<circle cx="371.38" cy="320.49" r="0.98" fill="#4a4a4a" opacity="0.5"/>
<circle cx="371.81" cy="321.52" r="1.33" fill="#4a4a4a" opacity="0.5"/>
<circle cx="374.93" cy="324.99" r="0.91" fill="#4a4a4a" opacity="0.5"/>
<circle cx="372.28" cy="319.07" r="1.31" fill="#4a4a4a" opacity="0.5"/>
<circle cx="325.4" cy="358.5" r="7.02" fill="url(#blobg)"/>
<circle cx="328.68" cy="359.83" r="1.25" fill="#4a4a4a" opacity="0.5"/>
<circle cx="326.46" cy="363.44" r="1" fill="#4a4a4a" opacity="0.5"/>
<circle cx="320.92" cy="358.8" r="1.72" fill="#4a4a4a" opacity="0.5"/>
<circle cx="327.65" cy="361.39" r="1.54" fill="#4a4a4a" opacity="0.5"/>
<circle cx="328.39" cy="359.25" r="1.64" fill="#4a4a4a" opacity="0.5"/>
<circle cx="327.6" cy="361.21" r="1.2" fill="#4a4a4a" opacity="0.5"/>
<circle cx="323.06" cy="359.71" r="1" fill="#4a4a4a" opacity="0.5"/>
<circle cx="329.89" cy="358.39" r="1.53" fill="#4a4a4a" opacity="0.5"/>
<circle cx="325.79" cy="361.59" r="1.39" fill="#4a4a4a" opacity="0.5"/>
<circle cx="325.59" cy="362.17" r="1.68" fill="#4a4a4a" opacity="0.5"/>
<circle cx="338.8" cy="360.3" r="7.02" fill="url(#blobg)"/>
<circle cx="336.61" cy="362.82" r="1.71" fill="#4a4a4a" opacity="0.5"/>
<circle cx="336.85" cy="358.67" r="1.28" fill="#4a4a4a" opacity="0.5"/>
<circle cx="337.28" cy="358.21" r="1.23" fill="#4a4a4a" opacity="0.5"/>
<circle cx="337.18" cy="355.82" r="1.42" fill="#4a4a4a" opacity="0.5"/>
<circle cx="341.58" cy="357.89" r="1.27" fill="#4a4a4a" opacity="0.5"/>
<circle cx="340.71" cy="357.42" r="1.56" fill="#4a4a4a" opacity="0.5"/>
<circle cx="339.53" cy="363.59" r="1.11" fill="#4a4a4a" opacity="0.5"/>
<circle cx="336.07" cy="359.42" r="1.13" fill="#4a4a4a" opacity="0.5"/>
<circle cx="339.62" cy="363.9" r="1.21" fill="#4a4a4a" opacity="0.5"/>
<circle cx="333.97" cy="361.97" r="1.49" fill="#4a4a4a" opacity="0.5"/>
<circle cx="349.5" cy="358.5" r="5.2" fill="url(#blobg)"/>
<circle cx="350.94" cy="356.82" r="0.93" fill="#4a4a4a" opacity="0.5"/>
<circle cx="352.36" cy="359.91" r="0.92" fill="#4a4a4a" opacity="0.5"/>
<circle cx="349.22" cy="360.32" r="0.82" fill="#4a4a4a" opacity="0.5"/>
<circle cx="349.3" cy="361.08" r="1.24" fill="#4a4a4a" opacity="0.5"/>
<circle cx="348.99" cy="356.22" r="0.92" fill="#4a4a4a" opacity="0.5"/>
<circle cx="351.59" cy="361.52" r="0.92" fill="#4a4a4a" opacity="0.5"/>
<circle cx="349.82" cy="355.27" r="1.23" fill="#4a4a4a" opacity="0.5"/>
<circle cx="351.92" cy="358.81" r="0.94" fill="#4a4a4a" opacity="0.5"/>
<circle cx="352.59" cy="360.28" r="0.9" fill="#4a4a4a" opacity="0.5"/>
<circle cx="349.87" cy="355.69" r="0.75" fill="#4a4a4a" opacity="0.5"/>
<circle cx="359.4" cy="356.7" r="7.02" fill="url(#blobg)"/>
<circle cx="356.98" cy="358.6" r="1" fill="#4a4a4a" opacity="0.5"/>
<circle cx="361.76" cy="359.98" r="1" fill="#4a4a4a" opacity="0.5"/>
<circle cx="358.04" cy="360" r="1.38" fill="#4a4a4a" opacity="0.5"/>
<circle cx="362.25" cy="359.97" r="1.17" fill="#4a4a4a" opacity="0.5"/>
<circle cx="358.75" cy="352.52" r="1.08" fill="#4a4a4a" opacity="0.5"/>
<circle cx="360.29" cy="359.76" r="1.51" fill="#4a4a4a" opacity="0.5"/>
<circle cx="356.52" cy="358.65" r="1.63" fill="#4a4a4a" opacity="0.5"/>
<circle cx="359.88" cy="359.88" r="1.23" fill="#4a4a4a" opacity="0.5"/>
<circle cx="359.94" cy="359.18" r="0.99" fill="#4a4a4a" opacity="0.5"/>
<circle cx="356.7" cy="353.81" r="1.58" fill="#4a4a4a" opacity="0.5"/>
<circle cx="371.9" cy="357.6" r="7.8" fill="url(#blobg)"/>
<circle cx="375.45" cy="357.05" r="1.64" fill="#4a4a4a" opacity="0.5"/>
<circle cx="374.82" cy="355.97" r="1.66" fill="#4a4a4a" opacity="0.5"/>
<circle cx="369.11" cy="352.78" r="1.81" fill="#4a4a4a" opacity="0.5"/>
<circle cx="372.34" cy="362.18" r="1.16" fill="#4a4a4a" opacity="0.5"/>
<circle cx="368.42" cy="359.3" r="1.13" fill="#4a4a4a" opacity="0.5"/>
<circle cx="369.16" cy="360.07" r="1.5" fill="#4a4a4a" opacity="0.5"/>
<circle cx="371.31" cy="360.72" r="1.42" fill="#4a4a4a" opacity="0.5"/>
<circle cx="368.74" cy="358.1" r="1.64" fill="#4a4a4a" opacity="0.5"/>
<circle cx="372.09" cy="360.57" r="1.37" fill="#4a4a4a" opacity="0.5"/>
<circle cx="369.12" cy="359.08" r="1.57" fill="#4a4a4a" opacity="0.5"/>
<circle cx="382.7" cy="355.8" r="5.2" fill="url(#blobg)"/>
<circle cx="381.83" cy="353.03" r="1.11" fill="#4a4a4a" opacity="0.5"/>
<circle cx="385.26" cy="356.17" r="0.92" fill="#4a4a4a" opacity="0.5"/>
<circle cx="385.11" cy="356.8" r="0.75" fill="#4a4a4a" opacity="0.5"/>
<circle cx="379.73" cy="355.88" r="0.98" fill="#4a4a4a" opacity="0.5"/>
<circle cx="381.65" cy="357.85" r="0.73" fill="#4a4a4a" opacity="0.5"/>
<circle cx="380.65" cy="358.74" r="1.04" fill="#4a4a4a" opacity="0.5"/>
<circle cx="382.47" cy="358.93" r="0.82" fill="#4a4a4a" opacity="0.5"/>
<circle cx="379.73" cy="356.38" r="1.25" fill="#4a4a4a" opacity="0.5"/>
<circle cx="380.78" cy="358.04" r="1.25" fill="#4a4a4a" opacity="0.5"/>
<circle cx="383.11" cy="352.77" r="1.07" fill="#4a4a4a" opacity="0.5"/>
<circle cx="325.4" cy="371.9" r="7.02" fill="url(#blobg)"/>
<circle cx="322.39" cy="373.79" r="1.18" fill="#4a4a4a" opacity="0.5"/>
<circle cx="327.7" cy="367.68" r="1.26" fill="#4a4a4a" opacity="0.5"/>
<circle cx="327.54" cy="370.54" r="1.07" fill="#4a4a4a" opacity="0.5"/>
<circle cx="322.14" cy="371.76" r="1.24" fill="#4a4a4a" opacity="0.5"/>
<circle cx="328.2" cy="371.49" r="1.12" fill="#4a4a4a" opacity="0.5"/>
<circle cx="325.97" cy="376.13" r="1.15" fill="#4a4a4a" opacity="0.5"/>
<circle cx="329.3" cy="371.92" r="1.27" fill="#4a4a4a" opacity="0.5"/>
<circle cx="325.65" cy="375.65" r="1.46" fill="#4a4a4a" opacity="0.5"/>
<circle cx="321.47" cy="370.67" r="1.4" fill="#4a4a4a" opacity="0.5"/>
<circle cx="327.86" cy="367.49" r="1.22" fill="#4a4a4a" opacity="0.5"/>
<circle cx="340.6" cy="377.3" r="9.75" fill="url(#blobg)"/>
<circle cx="336.78" cy="382.8" r="1.68" fill="#4a4a4a" opacity="0.5"/>
<circle cx="339.33" cy="371.45" r="2.07" fill="#4a4a4a" opacity="0.5"/>
<circle cx="346.9" cy="375.85" r="1.52" fill="#4a4a4a" opacity="0.5"/>
<circle cx="336.83" cy="373.69" r="1.94" fill="#4a4a4a" opacity="0.5"/>
<circle cx="337.57" cy="380.55" r="2.14" fill="#4a4a4a" opacity="0.5"/>
<circle cx="336.43" cy="376.4" r="1.61" fill="#4a4a4a" opacity="0.5"/>
<circle cx="338.77" cy="380.9" r="1.89" fill="#4a4a4a" opacity="0.5"/>
<circle cx="343.14" cy="379.87" r="1.42" fill="#4a4a4a" opacity="0.5"/>
<circle cx="345.42" cy="380.9" r="1.47" fill="#4a4a4a" opacity="0.5"/>
<circle cx="334.62" cy="379.18" r="1.85" fill="#4a4a4a" opacity="0.5"/>
<circle cx="359.4" cy="371.9" r="7.8" fill="url(#blobg)"/>
<circle cx="362.17" cy="376.42" r="1.81" fill="#4a4a4a" opacity="0.5"/>
<circle cx="362.67" cy="373.04" r="1.51" fill="#4a4a4a" opacity="0.5"/>
<circle cx="360.52" cy="368.19" r="1.68" fill="#4a4a4a" opacity="0.5"/>
<circle cx="359.34" cy="376.75" r="1.35" fill="#4a4a4a" opacity="0.5"/>
<circle cx="356.9" cy="376.2" r="1.79" fill="#4a4a4a" opacity="0.5"/>
<circle cx="361.48" cy="368.02" r="1.43" fill="#4a4a4a" opacity="0.5"/>
<circle cx="358.18" cy="367.5" r="1.78" fill="#4a4a4a" opacity="0.5"/>
<circle cx="360.37" cy="368.98" r="1.4" fill="#4a4a4a" opacity="0.5"/>
<circle cx="357.75" cy="368.93" r="1.24" fill="#4a4a4a" opacity="0.5"/>
<circle cx="363.84" cy="372.28" r="1.87" fill="#4a4a4a" opacity="0.5"/>
<circle cx="368.3" cy="377.3" r="7.02" fill="url(#blobg)"/>
<circle cx="371.04" cy="376.78" r="1.49" fill="#4a4a4a" opacity="0.5"/>
<circle cx="364.69" cy="379.31" r="1.27" fill="#4a4a4a" opacity="0.5"/>
<circle cx="372.96" cy="375.23" r="1.01" fill="#4a4a4a" opacity="0.5"/>
<circle cx="367.67" cy="374.62" r="1" fill="#4a4a4a" opacity="0.5"/>
<circle cx="367.31" cy="381.59" r="1.72" fill="#4a4a4a" opacity="0.5"/>
<circle cx="370.72" cy="379.58" r="0.99" fill="#4a4a4a" opacity="0.5"/>
<circle cx="364.7" cy="376.31" r="1.25" fill="#4a4a4a" opacity="0.5"/>
<circle cx="366.63" cy="381.58" r="1.61" fill="#4a4a4a" opacity="0.5"/>
<circle cx="367.57" cy="380.71" r="1.44" fill="#4a4a4a" opacity="0.5"/>
<circle cx="368.79" cy="372.24" r="1.27" fill="#4a4a4a" opacity="0.5"/>
<circle cx="381.8" cy="371.9" r="7.8" fill="url(#blobg)"/>
<circle cx="380.31" cy="367.83" r="1.75" fill="#4a4a4a" opacity="0.5"/>
<circle cx="383.75" cy="374.47" r="1.17" fill="#4a4a4a" opacity="0.5"/>
<circle cx="384.96" cy="370.5" r="1.49" fill="#4a4a4a" opacity="0.5"/>
<circle cx="384.47" cy="374.42" r="1.1" fill="#4a4a4a" opacity="0.5"/>
<circle cx="378.93" cy="370.64" r="1.61" fill="#4a4a4a" opacity="0.5"/>
<circle cx="381.29" cy="375.24" r="1.49" fill="#4a4a4a" opacity="0.5"/>
<circle cx="379.49" cy="374.5" r="1.12" fill="#4a4a4a" opacity="0.5"/>
<circle cx="386.74" cy="374.02" r="1.34" fill="#4a4a4a" opacity="0.5"/>
<circle cx="384.66" cy="373.44" r="1.49" fill="#4a4a4a" opacity="0.5"/>
<circle cx="385.11" cy="371.84" r="1.81" fill="#4a4a4a" opacity="0.5"/>
<circle cx="359.4" cy="384.4" r="5.85" fill="url(#blobg)"/>
<circle cx="356.46" cy="384.69" r="1.32" fill="#4a4a4a" opacity="0.5"/>
<circle cx="357.69" cy="385.71" r="1.16" fill="#4a4a4a" opacity="0.5"/>
<circle cx="357.51" cy="381.54" r="0.98" fill="#4a4a4a" opacity="0.5"/>
<circle cx="363.08" cy="382.91" r="1.44" fill="#4a4a4a" opacity="0.5"/>
<circle cx="355.75" cy="385.76" r="1.27" fill="#4a4a4a" opacity="0.5"/>
<circle cx="360.34" cy="386.26" r="0.92" fill="#4a4a4a" opacity="0.5"/>
<circle cx="361.01" cy="385.89" r="1.04" fill="#4a4a4a" opacity="0.5"/>
<circle cx="359.46" cy="381.68" r="1.13" fill="#4a4a4a" opacity="0.5"/>
<circle cx="361.89" cy="384.56" r="1.41" fill="#4a4a4a" opacity="0.5"/>
<circle cx="362.6" cy="384.62" r="1.32" fill="#4a4a4a" opacity="0.5"/>
<circle cx="325.4" cy="386.2" r="5.85" fill="url(#blobg)"/>
<circle cx="326.37" cy="382.65" r="1.06" fill="#4a4a4a" opacity="0.5"/>
<circle cx="326.67" cy="382.53" r="1.29" fill="#4a4a4a" opacity="0.5"/>
<circle cx="327.64" cy="386" r="1.41" fill="#4a4a4a" opacity="0.5"/>
<circle cx="322.45" cy="388.28" r="0.97" fill="#4a4a4a" opacity="0.5"/>
<circle cx="327.15" cy="385.08" r="1.17" fill="#4a4a4a" opacity="0.5"/>
<circle cx="325.81" cy="389.07" r="1.04" fill="#4a4a4a" opacity="0.5"/>
<circle cx="323.28" cy="382.99" r="1.04" fill="#4a4a4a" opacity="0.5"/>
<circle cx="323.57" cy="384.05" r="0.99" fill="#4a4a4a" opacity="0.5"/>
<circle cx="327.67" cy="384.66" r="0.87" fill="#4a4a4a" opacity="0.5"/>
<circle cx="323.52" cy="389.38" r="0.94" fill="#4a4a4a" opacity="0.5"/>
<circle cx="337.9" cy="389" r="5.85" fill="url(#blobg)"/>
<circle cx="337.76" cy="385.75" r="1.24" fill="#4a4a4a" opacity="0.5"/>
<circle cx="338.9" cy="391.03" r="0.9" fill="#4a4a4a" opacity="0.5"/>
<circle cx="336.14" cy="391.42" r="0.82" fill="#4a4a4a" opacity="0.5"/>
<circle cx="334.97" cy="388.95" r="1.01" fill="#4a4a4a" opacity="0.5"/>
<circle cx="333.85" cy="388.04" r="0.94" fill="#4a4a4a" opacity="0.5"/>
<circle cx="339.91" cy="387.13" r="1.29" fill="#4a4a4a" opacity="0.5"/>
<circle cx="341.2" cy="391.67" r="1.08" fill="#4a4a4a" opacity="0.5"/>
<circle cx="340.35" cy="388.41" r="1.07" fill="#4a4a4a" opacity="0.5"/>
<circle cx="337.24" cy="386.67" r="0.98" fill="#4a4a4a" opacity="0.5"/>
<circle cx="336.06" cy="385.27" r="1.01" fill="#4a4a4a" opacity="0.5"/>
<circle cx="373.7" cy="389" r="5.85" fill="url(#blobg)"/>
<circle cx="374.85" cy="391.58" r="1.43" fill="#4a4a4a" opacity="0.5"/>
<circle cx="375.76" cy="391.77" r="1.05" fill="#4a4a4a" opacity="0.5"/>
<circle cx="372.15" cy="387.03" r="1.2" fill="#4a4a4a" opacity="0.5"/>
<circle cx="376.71" cy="386.44" r="1.21" fill="#4a4a4a" opacity="0.5"/>
<circle cx="370.4" cy="388.9" r="0.88" fill="#4a4a4a" opacity="0.5"/>
<circle cx="375.57" cy="385.95" r="1.1" fill="#4a4a4a" opacity="0.5"/>
<circle cx="372.2" cy="386.44" r="1.05" fill="#4a4a4a" opacity="0.5"/>
<circle cx="374.12" cy="392.35" r="1.17" fill="#4a4a4a" opacity="0.5"/>
<circle cx="371.61" cy="388.8" r="1.21" fill="#4a4a4a" opacity="0.5"/>
<circle cx="370.53" cy="390.1" r="1.18" fill="#4a4a4a" opacity="0.5"/>
<circle cx="393.7" cy="314.7" r="7.02" fill="url(#blobg)"/>
<circle cx="396.28" cy="313.52" r="1.33" fill="#4a4a4a" opacity="0.5"/>
<circle cx="398.12" cy="314.5" r="1.21" fill="#4a4a4a" opacity="0.5"/>
<circle cx="393.28" cy="309.62" r="1.28" fill="#4a4a4a" opacity="0.5"/>
<circle cx="395.56" cy="312.65" r="1.72" fill="#4a4a4a" opacity="0.5"/>
<circle cx="390.64" cy="314.87" r="1.61" fill="#4a4a4a" opacity="0.5"/>
<circle cx="390.76" cy="310.7" r="1.6" fill="#4a4a4a" opacity="0.5"/>
<circle cx="394.82" cy="311.06" r="1.72" fill="#4a4a4a" opacity="0.5"/>
<circle cx="398.09" cy="316.59" r="1.51" fill="#4a4a4a" opacity="0.5"/>
<circle cx="393.68" cy="319.31" r="1.32" fill="#4a4a4a" opacity="0.5"/>
<circle cx="389.06" cy="313.62" r="1.12" fill="#4a4a4a" opacity="0.5"/>
<circle cx="415.3" cy="314.7" r="7.02" fill="url(#blobg)"/>
<circle cx="414.53" cy="318.8" r="1.03" fill="#4a4a4a" opacity="0.5"/>
<circle cx="411.01" cy="313.16" r="1.34" fill="#4a4a4a" opacity="0.5"/>
<circle cx="415.54" cy="319.28" r="1.62" fill="#4a4a4a" opacity="0.5"/>
<circle cx="415.81" cy="310.82" r="1.66" fill="#4a4a4a" opacity="0.5"/>
<circle cx="416.12" cy="311.98" r="1.25" fill="#4a4a4a" opacity="0.5"/>
<circle cx="417.34" cy="316.19" r="1.23" fill="#4a4a4a" opacity="0.5"/>
<circle cx="418.39" cy="311.18" r="1.06" fill="#4a4a4a" opacity="0.5"/>
<circle cx="416.75" cy="317.86" r="1.61" fill="#4a4a4a" opacity="0.5"/>
<circle cx="411.69" cy="311.44" r="1.03" fill="#4a4a4a" opacity="0.5"/>
<circle cx="418.28" cy="314.47" r="1.45" fill="#4a4a4a" opacity="0.5"/>
<circle cx="430.4" cy="319.1" r="7.02" fill="url(#blobg)"/>
<circle cx="433.54" cy="316.02" r="1.12" fill="#4a4a4a" opacity="0.5"/>
<circle cx="428.64" cy="315.97" r="0.98" fill="#4a4a4a" opacity="0.5"/>
<circle cx="428.65" cy="321.88" r="1.45" fill="#4a4a4a" opacity="0.5"/>
<circle cx="429.68" cy="323.09" r="1.5" fill="#4a4a4a" opacity="0.5"/>
<circle cx="431.57" cy="321.62" r="1.5" fill="#4a4a4a" opacity="0.5"/>
<circle cx="427.68" cy="319.68" r="1.06" fill="#4a4a4a" opacity="0.5"/>
<circle cx="434.2" cy="317.62" r="1.24" fill="#4a4a4a" opacity="0.5"/>
<circle cx="432.1" cy="323.93" r="1.49" fill="#4a4a4a" opacity="0.5"/>
<circle cx="430.11" cy="315.71" r="1.21" fill="#4a4a4a" opacity="0.5"/>
<circle cx="428.03" cy="320.64" r="1.45" fill="#4a4a4a" opacity="0.5"/>
<circle cx="447.7" cy="313.7" r="7.02" fill="url(#blobg)"/>
<circle cx="443.57" cy="315.82" r="1.28" fill="#4a4a4a" opacity="0.5"/>
<circle cx="444.04" cy="314.72" r="1.68" fill="#4a4a4a" opacity="0.5"/>
<circle cx="445.24" cy="317.26" r="1.15" fill="#4a4a4a" opacity="0.5"/>
<circle cx="444.89" cy="312.17" r="1.63" fill="#4a4a4a" opacity="0.5"/>
<circle cx="446.62" cy="318.31" r="1.48" fill="#4a4a4a" opacity="0.5"/>
<circle cx="442.95" cy="315.08" r="1.27" fill="#4a4a4a" opacity="0.5"/>
<circle cx="447.53" cy="309.65" r="1.31" fill="#4a4a4a" opacity="0.5"/>
<circle cx="450.98" cy="315.1" r="1.18" fill="#4a4a4a" opacity="0.5"/>
<circle cx="443.03" cy="315.52" r="1.19" fill="#4a4a4a" opacity="0.5"/>
<circle cx="446.26" cy="309.71" r="1.16" fill="#4a4a4a" opacity="0.5"/>
<circle cx="389.3" cy="328.8" r="7.02" fill="url(#blobg)"/>
<circle cx="386.93" cy="330.27" r="1.65" fill="#4a4a4a" opacity="0.5"/>
<circle cx="389.26" cy="332.37" r="1.23" fill="#4a4a4a" opacity="0.5"/>
<circle cx="391.33" cy="324.53" r="1.42" fill="#4a4a4a" opacity="0.5"/>
<circle cx="386.71" cy="328.03" r="1.65" fill="#4a4a4a" opacity="0.5"/>
<circle cx="392.2" cy="330.6" r="1.26" fill="#4a4a4a" opacity="0.5"/>
<circle cx="388.59" cy="324.62" r="1.23" fill="#4a4a4a" opacity="0.5"/>
<circle cx="393.3" cy="325.81" r="0.99" fill="#4a4a4a" opacity="0.5"/>
<circle cx="386.82" cy="326.06" r="1.25" fill="#4a4a4a" opacity="0.5"/>
<circle cx="386.1" cy="329.52" r="1.48" fill="#4a4a4a" opacity="0.5"/>
<circle cx="385.32" cy="325.69" r="1.71" fill="#4a4a4a" opacity="0.5"/>
<circle cx="405.5" cy="328.8" r="7.02" fill="url(#blobg)"/>
<circle cx="408.99" cy="328.64" r="1.6" fill="#4a4a4a" opacity="0.5"/>
<circle cx="402.96" cy="325.3" r="1.73" fill="#4a4a4a" opacity="0.5"/>
<circle cx="408.86" cy="330.29" r="1.28" fill="#4a4a4a" opacity="0.5"/>
<circle cx="403.82" cy="326.29" r="1.72" fill="#4a4a4a" opacity="0.5"/>
<circle cx="406.36" cy="332.12" r="1.08" fill="#4a4a4a" opacity="0.5"/>
<circle cx="402" cy="331.53" r="1.04" fill="#4a4a4a" opacity="0.5"/>
<circle cx="407.59" cy="332.42" r="1.44" fill="#4a4a4a" opacity="0.5"/>
<circle cx="405.34" cy="325.69" r="1.59" fill="#4a4a4a" opacity="0.5"/>
<circle cx="404.96" cy="324.31" r="1.06" fill="#4a4a4a" opacity="0.5"/>
<circle cx="403.08" cy="329.28" r="1.62" fill="#4a4a4a" opacity="0.5"/>
<circle cx="419.6" cy="325.5" r="7.02" fill="url(#blobg)"/>
<circle cx="424.16" cy="323.84" r="0.99" fill="#4a4a4a" opacity="0.5"/>
<circle cx="417.3" cy="328.62" r="1.38" fill="#4a4a4a" opacity="0.5"/>
<circle cx="423.09" cy="328.43" r="1.2" fill="#4a4a4a" opacity="0.5"/>
<circle cx="416.84" cy="325.37" r="1.4" fill="#4a4a4a" opacity="0.5"/>
<circle cx="421.43" cy="327.44" r="1.36" fill="#4a4a4a" opacity="0.5"/>
<circle cx="418.36" cy="329.86" r="1.16" fill="#4a4a4a" opacity="0.5"/>
<circle cx="417.39" cy="326.83" r="1.14" fill="#4a4a4a" opacity="0.5"/>
<circle cx="415.84" cy="326.68" r="1.32" fill="#4a4a4a" opacity="0.5"/>
<circle cx="421.2" cy="323.31" r="1.61" fill="#4a4a4a" opacity="0.5"/>
<circle cx="422.44" cy="329.67" r="1.37" fill="#4a4a4a" opacity="0.5"/>
<circle cx="438" cy="332" r="8.45" fill="url(#blobg)"/>
<circle cx="433.91" cy="334.73" r="1.96" fill="#4a4a4a" opacity="0.5"/>
<circle cx="442.16" cy="331.04" r="1.18" fill="#4a4a4a" opacity="0.5"/>
<circle cx="441.18" cy="336.59" r="1.84" fill="#4a4a4a" opacity="0.5"/>
<circle cx="437.2" cy="328.66" r="1.65" fill="#4a4a4a" opacity="0.5"/>
<circle cx="441.23" cy="332.59" r="1.44" fill="#4a4a4a" opacity="0.5"/>
<circle cx="442.9" cy="330.94" r="1.94" fill="#4a4a4a" opacity="0.5"/>
<circle cx="442.1" cy="333.22" r="1.24" fill="#4a4a4a" opacity="0.5"/>
<circle cx="437.78" cy="335.28" r="2.01" fill="#4a4a4a" opacity="0.5"/>
<circle cx="435.86" cy="335.97" r="1.77" fill="#4a4a4a" opacity="0.5"/>
<circle cx="442.54" cy="328.08" r="1.69" fill="#4a4a4a" opacity="0.5"/>
<circle cx="456.4" cy="326.6" r="7.02" fill="url(#blobg)"/>
<circle cx="451.53" cy="326.57" r="1.27" fill="#4a4a4a" opacity="0.5"/>
<circle cx="455.05" cy="330.82" r="1.17" fill="#4a4a4a" opacity="0.5"/>
<circle cx="453.98" cy="329.25" r="1.33" fill="#4a4a4a" opacity="0.5"/>
<circle cx="454.14" cy="329.39" r="1.31" fill="#4a4a4a" opacity="0.5"/>
<circle cx="460.86" cy="328.04" r="1.02" fill="#4a4a4a" opacity="0.5"/>
<circle cx="452.55" cy="325.92" r="1.27" fill="#4a4a4a" opacity="0.5"/>
<circle cx="456.86" cy="329.26" r="1.25" fill="#4a4a4a" opacity="0.5"/>
<circle cx="454.93" cy="330.04" r="1.15" fill="#4a4a4a" opacity="0.5"/>
<circle cx="456.39" cy="322.85" r="0.98" fill="#4a4a4a" opacity="0.5"/>
<circle cx="452.2" cy="329.39" r="0.98" fill="#4a4a4a" opacity="0.5"/>
<circle cx="413.1" cy="337.4" r="7.02" fill="url(#blobg)"/>
<circle cx="408.92" cy="334.62" r="1.25" fill="#4a4a4a" opacity="0.5"/>
<circle cx="410.3" cy="335.42" r="1.2" fill="#4a4a4a" opacity="0.5"/>
<circle cx="409.99" cy="334.85" r="1.21" fill="#4a4a4a" opacity="0.5"/>
<circle cx="409.28" cy="337.46" r="1.54" fill="#4a4a4a" opacity="0.5"/>
<circle cx="415.63" cy="338.28" r="1.16" fill="#4a4a4a" opacity="0.5"/>
<circle cx="412.52" cy="341.94" r="1.29" fill="#4a4a4a" opacity="0.5"/>
<circle cx="415.34" cy="334.69" r="1.19" fill="#4a4a4a" opacity="0.5"/>
<circle cx="411.97" cy="334.99" r="1.72" fill="#4a4a4a" opacity="0.5"/>
<circle cx="414.73" cy="334.51" r="1.21" fill="#4a4a4a" opacity="0.5"/>
<circle cx="415.02" cy="333.27" r="1.46" fill="#4a4a4a" opacity="0.5"/>
<circle cx="425" cy="339.6" r="7.02" fill="url(#blobg)"/>
<circle cx="429.21" cy="341.17" r="1.01" fill="#4a4a4a" opacity="0.5"/>
<circle cx="422.22" cy="336.83" r="1.67" fill="#4a4a4a" opacity="0.5"/>
<circle cx="423.4" cy="337.69" r="1.68" fill="#4a4a4a" opacity="0.5"/>
<circle cx="425.07" cy="335.61" r="0.98" fill="#4a4a4a" opacity="0.5"/>
<circle cx="424.71" cy="336.05" r="1.49" fill="#4a4a4a" opacity="0.5"/>
<circle cx="429.88" cy="339.1" r="1.03" fill="#4a4a4a" opacity="0.5"/>
<circle cx="425.71" cy="336.05" r="1.54" fill="#4a4a4a" opacity="0.5"/>
<circle cx="422.38" cy="342.13" r="1.3" fill="#4a4a4a" opacity="0.5"/>
<circle cx="427.43" cy="341.82" r="1.53" fill="#4a4a4a" opacity="0.5"/>
<circle cx="427.47" cy="340.79" r="1.6" fill="#4a4a4a" opacity="0.5"/>
<circle cx="446.6" cy="337.4" r="8.45" fill="url(#blobg)"/>
<circle cx="444.24" cy="333.33" r="1.27" fill="#4a4a4a" opacity="0.5"/>
<circle cx="449.49" cy="340.06" r="2.04" fill="#4a4a4a" opacity="0.5"/>
<circle cx="441.1" cy="335.21" r="1.36" fill="#4a4a4a" opacity="0.5"/>
<circle cx="442.58" cy="339.78" r="1.93" fill="#4a4a4a" opacity="0.5"/>
<circle cx="450.72" cy="341.43" r="1.6" fill="#4a4a4a" opacity="0.5"/>
<circle cx="450.84" cy="338.25" r="1.51" fill="#4a4a4a" opacity="0.5"/>
<circle cx="443.88" cy="332.12" r="1.62" fill="#4a4a4a" opacity="0.5"/>
<circle cx="445.05" cy="333.51" r="1.88" fill="#4a4a4a" opacity="0.5"/>
<circle cx="450.81" cy="340.68" r="1.32" fill="#4a4a4a" opacity="0.5"/>
<circle cx="443.53" cy="335.56" r="1.49" fill="#4a4a4a" opacity="0.5"/>
<circle cx="398" cy="349.3" r="8.45" fill="url(#blobg)"/>
<circle cx="400.09" cy="352.78" r="1.71" fill="#4a4a4a" opacity="0.5"/>
<circle cx="393.85" cy="348.78" r="1.69" fill="#4a4a4a" opacity="0.5"/>
<circle cx="400.24" cy="345.88" r="1.7" fill="#4a4a4a" opacity="0.5"/>
<circle cx="391.93" cy="350.05" r="1.47" fill="#4a4a4a" opacity="0.5"/>
<circle cx="396.8" cy="345.82" r="1.41" fill="#4a4a4a" opacity="0.5"/>
<circle cx="397.41" cy="344.54" r="1.4" fill="#4a4a4a" opacity="0.5"/>
<circle cx="403.16" cy="351.5" r="1.51" fill="#4a4a4a" opacity="0.5"/>
<circle cx="397.09" cy="345.06" r="1.73" fill="#4a4a4a" opacity="0.5"/>
<circle cx="392.33" cy="347.07" r="2" fill="#4a4a4a" opacity="0.5"/>
<circle cx="393.67" cy="350.54" r="1.38" fill="#4a4a4a" opacity="0.5"/>
<circle cx="417.4" cy="346.1" r="7.02" fill="url(#blobg)"/>
<circle cx="417.45" cy="343.39" r="1.2" fill="#4a4a4a" opacity="0.5"/>
<circle cx="418.85" cy="344.03" r="1.5" fill="#4a4a4a" opacity="0.5"/>
<circle cx="413.83" cy="344.47" r="1.22" fill="#4a4a4a" opacity="0.5"/>
<circle cx="420.3" cy="350.17" r="1.55" fill="#4a4a4a" opacity="0.5"/>
<circle cx="418.32" cy="343.57" r="1.56" fill="#4a4a4a" opacity="0.5"/>
<circle cx="417.98" cy="349.01" r="1.38" fill="#4a4a4a" opacity="0.5"/>
<circle cx="415.27" cy="344.35" r="1.55" fill="#4a4a4a" opacity="0.5"/>
<circle cx="413.18" cy="343.69" r="1.67" fill="#4a4a4a" opacity="0.5"/>
<circle cx="416.13" cy="342.93" r="1.69" fill="#4a4a4a" opacity="0.5"/>
<circle cx="416.77" cy="342.95" r="1.62" fill="#4a4a4a" opacity="0.5"/>
<circle cx="434.8" cy="345" r="8.45" fill="url(#blobg)"/>
<circle cx="434.25" cy="341.25" r="1.4" fill="#4a4a4a" opacity="0.5"/>
<circle cx="439.43" cy="345.6" r="1.4" fill="#4a4a4a" opacity="0.5"/>
<circle cx="433.8" cy="348.61" r="1.29" fill="#4a4a4a" opacity="0.5"/>
<circle cx="431.01" cy="345.36" r="1.43" fill="#4a4a4a" opacity="0.5"/>
<circle cx="434.01" cy="349.51" r="1.97" fill="#4a4a4a" opacity="0.5"/>
<circle cx="437.86" cy="349.83" r="1.95" fill="#4a4a4a" opacity="0.5"/>
<circle cx="431.17" cy="342.02" r="1.84" fill="#4a4a4a" opacity="0.5"/>
<circle cx="429.85" cy="343.91" r="2.01" fill="#4a4a4a" opacity="0.5"/>
<circle cx="435.39" cy="341.28" r="1.22" fill="#4a4a4a" opacity="0.5"/>
<circle cx="438.58" cy="343.41" r="1.89" fill="#4a4a4a" opacity="0.5"/>
<circle cx="446.6" cy="350.4" r="7.02" fill="url(#blobg)"/>
<circle cx="446.98" cy="354.03" r="1.25" fill="#4a4a4a" opacity="0.5"/>
<circle cx="445.95" cy="345.46" r="1.35" fill="#4a4a4a" opacity="0.5"/>
<circle cx="443.51" cy="349.04" r="1.15" fill="#4a4a4a" opacity="0.5"/>
<circle cx="449.19" cy="349.55" r="1.68" fill="#4a4a4a" opacity="0.5"/>
<circle cx="445.15" cy="348.21" r="1.65" fill="#4a4a4a" opacity="0.5"/>
<circle cx="449.77" cy="352.77" r="1.06" fill="#4a4a4a" opacity="0.5"/>
<circle cx="449.86" cy="350.17" r="1.63" fill="#4a4a4a" opacity="0.5"/>
<circle cx="450.52" cy="351.99" r="1.02" fill="#4a4a4a" opacity="0.5"/>
<circle cx="450.5" cy="351.14" r="1.72" fill="#4a4a4a" opacity="0.5"/>
<circle cx="444.72" cy="346.05" r="1.57" fill="#4a4a4a" opacity="0.5"/>
<circle cx="456.4" cy="353.7" r="5.85" fill="url(#blobg)"/>
<circle cx="454.22" cy="353.41" r="1.14" fill="#4a4a4a" opacity="0.5"/>
<circle cx="457.68" cy="356.64" r="1.03" fill="#4a4a4a" opacity="0.5"/>
<circle cx="453.93" cy="353.72" r="1.25" fill="#4a4a4a" opacity="0.5"/>
<circle cx="453.69" cy="355.25" r="0.86" fill="#4a4a4a" opacity="0.5"/>
<circle cx="453.13" cy="353.97" r="1.42" fill="#4a4a4a" opacity="0.5"/>
<circle cx="454.24" cy="352.82" r="1" fill="#4a4a4a" opacity="0.5"/>
<circle cx="454.55" cy="356.8" r="1.4" fill="#4a4a4a" opacity="0.5"/>
<circle cx="460.52" cy="353.07" r="1.39" fill="#4a4a4a" opacity="0.5"/>
<circle cx="459" cy="350.5" r="0.82" fill="#4a4a4a" opacity="0.5"/>
<circle cx="453.05" cy="353.92" r="1.24" fill="#4a4a4a" opacity="0.5"/>
<circle cx="390.4" cy="362.3" r="7.02" fill="url(#blobg)"/>
<circle cx="387.3" cy="359.64" r="1.68" fill="#4a4a4a" opacity="0.5"/>
<circle cx="393.68" cy="364.28" r="1.7" fill="#4a4a4a" opacity="0.5"/>
<circle cx="393.08" cy="362.84" r="1.63" fill="#4a4a4a" opacity="0.5"/>
<circle cx="392.81" cy="361.64" r="1" fill="#4a4a4a" opacity="0.5"/>
<circle cx="392.46" cy="358.54" r="1.36" fill="#4a4a4a" opacity="0.5"/>
<circle cx="386.48" cy="360.14" r="1.58" fill="#4a4a4a" opacity="0.5"/>
<circle cx="393.01" cy="362.31" r="1.57" fill="#4a4a4a" opacity="0.5"/>
<circle cx="395.02" cy="361.58" r="1.28" fill="#4a4a4a" opacity="0.5"/>
<circle cx="388.68" cy="365.19" r="0.98" fill="#4a4a4a" opacity="0.5"/>
<circle cx="390.8" cy="359.19" r="1.41" fill="#4a4a4a" opacity="0.5"/>
<circle cx="404.5" cy="363.4" r="7.02" fill="url(#blobg)"/>
<circle cx="401.21" cy="362.86" r="1.48" fill="#4a4a4a" opacity="0.5"/>
<circle cx="401.56" cy="364.26" r="1.64" fill="#4a4a4a" opacity="0.5"/>
<circle cx="405.78" cy="365.93" r="1.16" fill="#4a4a4a" opacity="0.5"/>
<circle cx="399.99" cy="364" r="1.22" fill="#4a4a4a" opacity="0.5"/>
<circle cx="404.81" cy="367.59" r="1.17" fill="#4a4a4a" opacity="0.5"/>
<circle cx="401.41" cy="362.96" r="1.64" fill="#4a4a4a" opacity="0.5"/>
<circle cx="405.72" cy="366.2" r="1.2" fill="#4a4a4a" opacity="0.5"/>
<circle cx="402.39" cy="367.25" r="1.48" fill="#4a4a4a" opacity="0.5"/>
<circle cx="405.47" cy="359.64" r="1.03" fill="#4a4a4a" opacity="0.5"/>
<circle cx="404.76" cy="360.32" r="1.14" fill="#4a4a4a" opacity="0.5"/>
<circle cx="417.4" cy="361.2" r="8.45" fill="url(#blobg)"/>
<circle cx="412.13" cy="364.35" r="1.51" fill="#4a4a4a" opacity="0.5"/>
<circle cx="413.75" cy="365.82" r="2.07" fill="#4a4a4a" opacity="0.5"/>
<circle cx="414.85" cy="363.39" r="1.89" fill="#4a4a4a" opacity="0.5"/>
<circle cx="418.21" cy="357.26" r="1.89" fill="#4a4a4a" opacity="0.5"/>
<circle cx="414.6" cy="363.85" r="1.71" fill="#4a4a4a" opacity="0.5"/>
<circle cx="417.16" cy="356.73" r="1.91" fill="#4a4a4a" opacity="0.5"/>
<circle cx="421.93" cy="361.59" r="1.52" fill="#4a4a4a" opacity="0.5"/>
<circle cx="422.81" cy="363.55" r="1.3" fill="#4a4a4a" opacity="0.5"/>
<circle cx="418.99" cy="366.76" r="2.04" fill="#4a4a4a" opacity="0.5"/>
<circle cx="421.07" cy="359.51" r="2.02" fill="#4a4a4a" opacity="0.5"/>
<circle cx="439" cy="365.6" r="9.75" fill="url(#blobg)"/>
<circle cx="442.81" cy="370.31" r="2.34" fill="#4a4a4a" opacity="0.5"/>
<circle cx="440.37" cy="369.23" r="2.06" fill="#4a4a4a" opacity="0.5"/>
<circle cx="443.51" cy="361.5" r="2.35" fill="#4a4a4a" opacity="0.5"/>
<circle cx="434.43" cy="366.97" r="1.48" fill="#4a4a4a" opacity="0.5"/>
<circle cx="438.01" cy="372.42" r="1.43" fill="#4a4a4a" opacity="0.5"/>
<circle cx="440.86" cy="369.89" r="1.4" fill="#4a4a4a" opacity="0.5"/>
<circle cx="437.58" cy="369.4" r="1.48" fill="#4a4a4a" opacity="0.5"/>
<circle cx="433.68" cy="364.69" r="1.95" fill="#4a4a4a" opacity="0.5"/>
<circle cx="439.41" cy="360.27" r="2.34" fill="#4a4a4a" opacity="0.5"/>
<circle cx="442.67" cy="367.66" r="1.43" fill="#4a4a4a" opacity="0.5"/>
<circle cx="453.1" cy="364.5" r="7.02" fill="url(#blobg)"/>
<circle cx="451.47" cy="368.68" r="1.67" fill="#4a4a4a" opacity="0.5"/>
<circle cx="450.24" cy="364.43" r="1.22" fill="#4a4a4a" opacity="0.5"/>
<circle cx="450.17" cy="363.16" r="1.57" fill="#4a4a4a" opacity="0.5"/>
<circle cx="456.72" cy="363.87" r="1.43" fill="#4a4a4a" opacity="0.5"/>
<circle cx="455.19" cy="361.46" r="1.12" fill="#4a4a4a" opacity="0.5"/>
<circle cx="457.86" cy="362.75" r="0.99" fill="#4a4a4a" opacity="0.5"/>
<circle cx="453.38" cy="361" r="1.01" fill="#4a4a4a" opacity="0.5"/>
<circle cx="454.61" cy="366.97" r="1.53" fill="#4a4a4a" opacity="0.5"/>
<circle cx="453.69" cy="366.91" r="1.14" fill="#4a4a4a" opacity="0.5"/>
<circle cx="454.25" cy="360.9" r="1.47" fill="#4a4a4a" opacity="0.5"/>
<circle cx="398" cy="374.2" r="7.02" fill="url(#blobg)"/>
<circle cx="395.15" cy="374.84" r="0.98" fill="#4a4a4a" opacity="0.5"/>
<circle cx="397.15" cy="376.6" r="1.17" fill="#4a4a4a" opacity="0.5"/>
<circle cx="395.48" cy="371.87" r="1.33" fill="#4a4a4a" opacity="0.5"/>
<circle cx="395.66" cy="371.89" r="1.24" fill="#4a4a4a" opacity="0.5"/>
<circle cx="400.98" cy="371.53" r="1.29" fill="#4a4a4a" opacity="0.5"/>
<circle cx="394.44" cy="373.28" r="1.22" fill="#4a4a4a" opacity="0.5"/>
<circle cx="400.62" cy="372.62" r="1.68" fill="#4a4a4a" opacity="0.5"/>
<circle cx="400.9" cy="370.36" r="1.09" fill="#4a4a4a" opacity="0.5"/>
<circle cx="392.92" cy="373.92" r="1.19" fill="#4a4a4a" opacity="0.5"/>
<circle cx="400.09" cy="378.05" r="1.15" fill="#4a4a4a" opacity="0.5"/>
<circle cx="418.5" cy="371" r="8.45" fill="url(#blobg)"/>
<circle cx="415.53" cy="369.28" r="2.03" fill="#4a4a4a" opacity="0.5"/>
<circle cx="417.81" cy="374.17" r="1.8" fill="#4a4a4a" opacity="0.5"/>
<circle cx="415.78" cy="374.89" r="1.62" fill="#4a4a4a" opacity="0.5"/>
<circle cx="422.56" cy="368.85" r="1.51" fill="#4a4a4a" opacity="0.5"/>
<circle cx="423.04" cy="371.05" r="1.41" fill="#4a4a4a" opacity="0.5"/>
<circle cx="414.05" cy="368.76" r="1.59" fill="#4a4a4a" opacity="0.5"/>
<circle cx="422.34" cy="373.43" r="1.61" fill="#4a4a4a" opacity="0.5"/>
<circle cx="414.66" cy="366.29" r="1.42" fill="#4a4a4a" opacity="0.5"/>
<circle cx="415.5" cy="372.13" r="1.9" fill="#4a4a4a" opacity="0.5"/>
<circle cx="419.05" cy="376.59" r="1.9" fill="#4a4a4a" opacity="0.5"/>
<circle cx="440.2" cy="374.2" r="7.02" fill="url(#blobg)"/>
<circle cx="440.06" cy="379.07" r="1.35" fill="#4a4a4a" opacity="0.5"/>
<circle cx="436.69" cy="375.96" r="1.69" fill="#4a4a4a" opacity="0.5"/>
<circle cx="436.48" cy="374.44" r="1.19" fill="#4a4a4a" opacity="0.5"/>
<circle cx="442.25" cy="371.02" r="1.23" fill="#4a4a4a" opacity="0.5"/>
<circle cx="441.19" cy="377.04" r="1.6" fill="#4a4a4a" opacity="0.5"/>
<circle cx="441.87" cy="369.41" r="1.67" fill="#4a4a4a" opacity="0.5"/>
<circle cx="438.38" cy="369.99" r="1.51" fill="#4a4a4a" opacity="0.5"/>
<circle cx="441.88" cy="369.92" r="1.11" fill="#4a4a4a" opacity="0.5"/>
<circle cx="441.48" cy="371.22" r="1.16" fill="#4a4a4a" opacity="0.5"/>
<circle cx="442.38" cy="372.99" r="1.36" fill="#4a4a4a" opacity="0.5"/>
<circle cx="403.4" cy="381.8" r="9.75" fill="url(#blobg)"/>
<circle cx="399.9" cy="387.09" r="1.99" fill="#4a4a4a" opacity="0.5"/>
<circle cx="409.23" cy="378.16" r="2.03" fill="#4a4a4a" opacity="0.5"/>
<circle cx="408.8" cy="384.12" r="1.46" fill="#4a4a4a" opacity="0.5"/>
<circle cx="410" cy="381.06" r="1.68" fill="#4a4a4a" opacity="0.5"/>
<circle cx="405.74" cy="387.3" r="2.15" fill="#4a4a4a" opacity="0.5"/>
<circle cx="409.09" cy="381.26" r="1.48" fill="#4a4a4a" opacity="0.5"/>
<circle cx="402.88" cy="378.24" r="2.26" fill="#4a4a4a" opacity="0.5"/>
<circle cx="404.14" cy="375.52" r="2.27" fill="#4a4a4a" opacity="0.5"/>
<circle cx="397.13" cy="378.89" r="2.02" fill="#4a4a4a" opacity="0.5"/>
<circle cx="398.59" cy="382.04" r="1.72" fill="#4a4a4a" opacity="0.5"/>
<circle cx="429.3" cy="382.9" r="8.45" fill="url(#blobg)"/>
<circle cx="432.71" cy="383.39" r="1.89" fill="#4a4a4a" opacity="0.5"/>
<circle cx="429.97" cy="387.9" r="1.88" fill="#4a4a4a" opacity="0.5"/>
<circle cx="427.73" cy="378.58" r="1.46" fill="#4a4a4a" opacity="0.5"/>
<circle cx="428.79" cy="386.4" r="1.76" fill="#4a4a4a" opacity="0.5"/>
<circle cx="426.97" cy="377.39" r="1.47" fill="#4a4a4a" opacity="0.5"/>
<circle cx="434.58" cy="380.3" r="1.43" fill="#4a4a4a" opacity="0.5"/>
<circle cx="434.02" cy="381.43" r="2.05" fill="#4a4a4a" opacity="0.5"/>
<circle cx="429.91" cy="378.94" r="1.42" fill="#4a4a4a" opacity="0.5"/>
<circle cx="424.83" cy="382.26" r="1.2" fill="#4a4a4a" opacity="0.5"/>
<circle cx="432.33" cy="379.35" r="1.6" fill="#4a4a4a" opacity="0.5"/>
<circle cx="452" cy="385" r="7.02" fill="url(#blobg)"/>
<circle cx="451.89" cy="381.9" r="1.12" fill="#4a4a4a" opacity="0.5"/>
<circle cx="449.31" cy="383.5" r="1.22" fill="#4a4a4a" opacity="0.5"/>
<circle cx="454.33" cy="386.09" r="1.24" fill="#4a4a4a" opacity="0.5"/>
<circle cx="447.08" cy="384.16" r="1.46" fill="#4a4a4a" opacity="0.5"/>
<circle cx="448.97" cy="386.81" r="1.15" fill="#4a4a4a" opacity="0.5"/>
<circle cx="447.05" cy="385.82" r="1.06" fill="#4a4a4a" opacity="0.5"/>
<circle cx="448.09" cy="386.75" r="1.55" fill="#4a4a4a" opacity="0.5"/>
<circle cx="448.09" cy="383.59" r="1.68" fill="#4a4a4a" opacity="0.5"/>
<circle cx="454.54" cy="383.21" r="1.38" fill="#4a4a4a" opacity="0.5"/>
<circle cx="455.85" cy="384.93" r="1.12" fill="#4a4a4a" opacity="0.5"/>
<circle cx="415.3" cy="386.1" r="5.59" fill="url(#blobg)"/>
<circle cx="415.51" cy="384.05" r="0.86" fill="#4a4a4a" opacity="0.5"/>
<circle cx="412.91" cy="385.3" r="1.21" fill="#4a4a4a" opacity="0.5"/>
<circle cx="414.92" cy="383.51" r="1.24" fill="#4a4a4a" opacity="0.5"/>
<circle cx="413.23" cy="383.34" r="1.05" fill="#4a4a4a" opacity="0.5"/>
<circle cx="413.33" cy="386.99" r="1.06" fill="#4a4a4a" opacity="0.5"/>
<circle cx="418.99" cy="385.02" r="0.81" fill="#4a4a4a" opacity="0.5"/>
<circle cx="417.57" cy="387.19" r="1.19" fill="#4a4a4a" opacity="0.5"/>
<circle cx="413.26" cy="386.94" r="1.03" fill="#4a4a4a" opacity="0.5"/>
<circle cx="412.13" cy="384.53" r="1.02" fill="#4a4a4a" opacity="0.5"/>
<circle cx="413.3" cy="383.35" r="1.14" fill="#4a4a4a" opacity="0.5"/>
<circle cx="389.3" cy="378.5" r="5.85" fill="url(#blobg)"/>
<circle cx="392.77" cy="379.54" r="0.89" fill="#4a4a4a" opacity="0.5"/>
<circle cx="392.21" cy="379.54" r="0.82" fill="#4a4a4a" opacity="0.5"/>
<circle cx="391.91" cy="379.78" r="1.11" fill="#4a4a4a" opacity="0.5"/>
<circle cx="392.59" cy="381.07" r="1.35" fill="#4a4a4a" opacity="0.5"/>
<circle cx="385.96" cy="378.78" r="1.01" fill="#4a4a4a" opacity="0.5"/>
<circle cx="391.58" cy="378.26" r="1" fill="#4a4a4a" opacity="0.5"/>
<circle cx="390.02" cy="382.41" r="1.13" fill="#4a4a4a" opacity="0.5"/>
<circle cx="386.83" cy="380.06" r="1.37" fill="#4a4a4a" opacity="0.5"/>
<circle cx="389.12" cy="382.3" r="1.26" fill="#4a4a4a" opacity="0.5"/>
<circle cx="386.6" cy="379.41" r="1.09" fill="#4a4a4a" opacity="0.5"/>
</g>
<rect x="322.2" y="252.8" width="137.8" height="138.2" filter="url(#noise)" opacity="0.35"/>
</g>
<rect x="405.6" y="252.8" width="54.4" height="55" fill="#a9a9a9"/>
<g clip-path="url(#insclip)"><ellipse cx="436" cy="279" rx="22" ry="18" fill="#808080" filter="url(#bl3)"/></g>
<rect x="405.6" y="252.8" width="54.4" height="55" filter="url(#mottle)" opacity="0.7"/>
<rect x="405.6" y="252.8" width="54.4" height="55" filter="url(#mottle2)" opacity="0.35"/>
<g clip-path="url(#insclip)" filter="url(#bl5)">
<ellipse cx="423.9" cy="281.4" rx="1.5" ry="1.17" fill="#3a3a3a" opacity="0.55"/>
<ellipse cx="438.2" cy="270.3" rx="1.75" ry="1.17" fill="#3a3a3a" opacity="0.58"/>
<ellipse cx="447.8" cy="295.8" rx="1.02" ry="1.03" fill="#3a3a3a" opacity="0.59"/>
<ellipse cx="452.5" cy="278.3" rx="1.52" ry="1.25" fill="#3a3a3a" opacity="0.38"/>
<ellipse cx="455.7" cy="281.4" rx="1.38" ry="0.92" fill="#3a3a3a" opacity="0.49"/>
<ellipse cx="419" cy="262.3" rx="1.46" ry="0.81" fill="#3a3a3a" opacity="0.4"/>
<ellipse cx="443" cy="291" rx="1.22" ry="1.26" fill="#3a3a3a" opacity="0.54"/>
<ellipse cx="428.7" cy="300.5" rx="1.13" ry="1.2" fill="#3a3a3a" opacity="0.38"/>
<ellipse cx="430" cy="276" rx="1.49" ry="0.86" fill="#3a3a3a" opacity="0.35"/>
<ellipse cx="436" cy="285" rx="1.7" ry="0.9" fill="#3a3a3a" opacity="0.4"/>
<ellipse cx="426" cy="290" rx="1.79" ry="1.24" fill="#3a3a3a" opacity="0.42"/>
<ellipse cx="446" cy="274" rx="1.77" ry="1.07" fill="#3a3a3a" opacity="0.52"/>
<ellipse cx="415" cy="284" rx="1.16" ry="1.27" fill="#3a3a3a" opacity="0.52"/>
<ellipse cx="440" cy="262" rx="1.77" ry="1.25" fill="#3a3a3a" opacity="0.42"/>
</g>
<rect x="390.8" y="343.1" width="15.4" height="14.6" fill="none" stroke="#e41e2c" stroke-width="1.2"/>
<path d="M399.2,342.8 L405.6,308 M400.2,342.8 L460,308.5" stroke="#e41e2c" stroke-width="1.1" fill="none"/>
<line x1="459.4" y1="360" x2="459.4" y2="390.8" stroke="#2a2a2a" stroke-width="1.1" />
<line x1="459.4" y1="320" x2="459.4" y2="360" stroke="#555" stroke-width="0.8" />
<line x1="330.7" y1="382.2" x2="353" y2="382.2" stroke="#fff" stroke-width="1.1" />
<text x="330.7" y="380.7" font-size="5.1" font-weight="normal" text-anchor="start" fill="#fff" stroke="#fff" stroke-width="0.15">500 nm</text>
</svg>
</body></html>
